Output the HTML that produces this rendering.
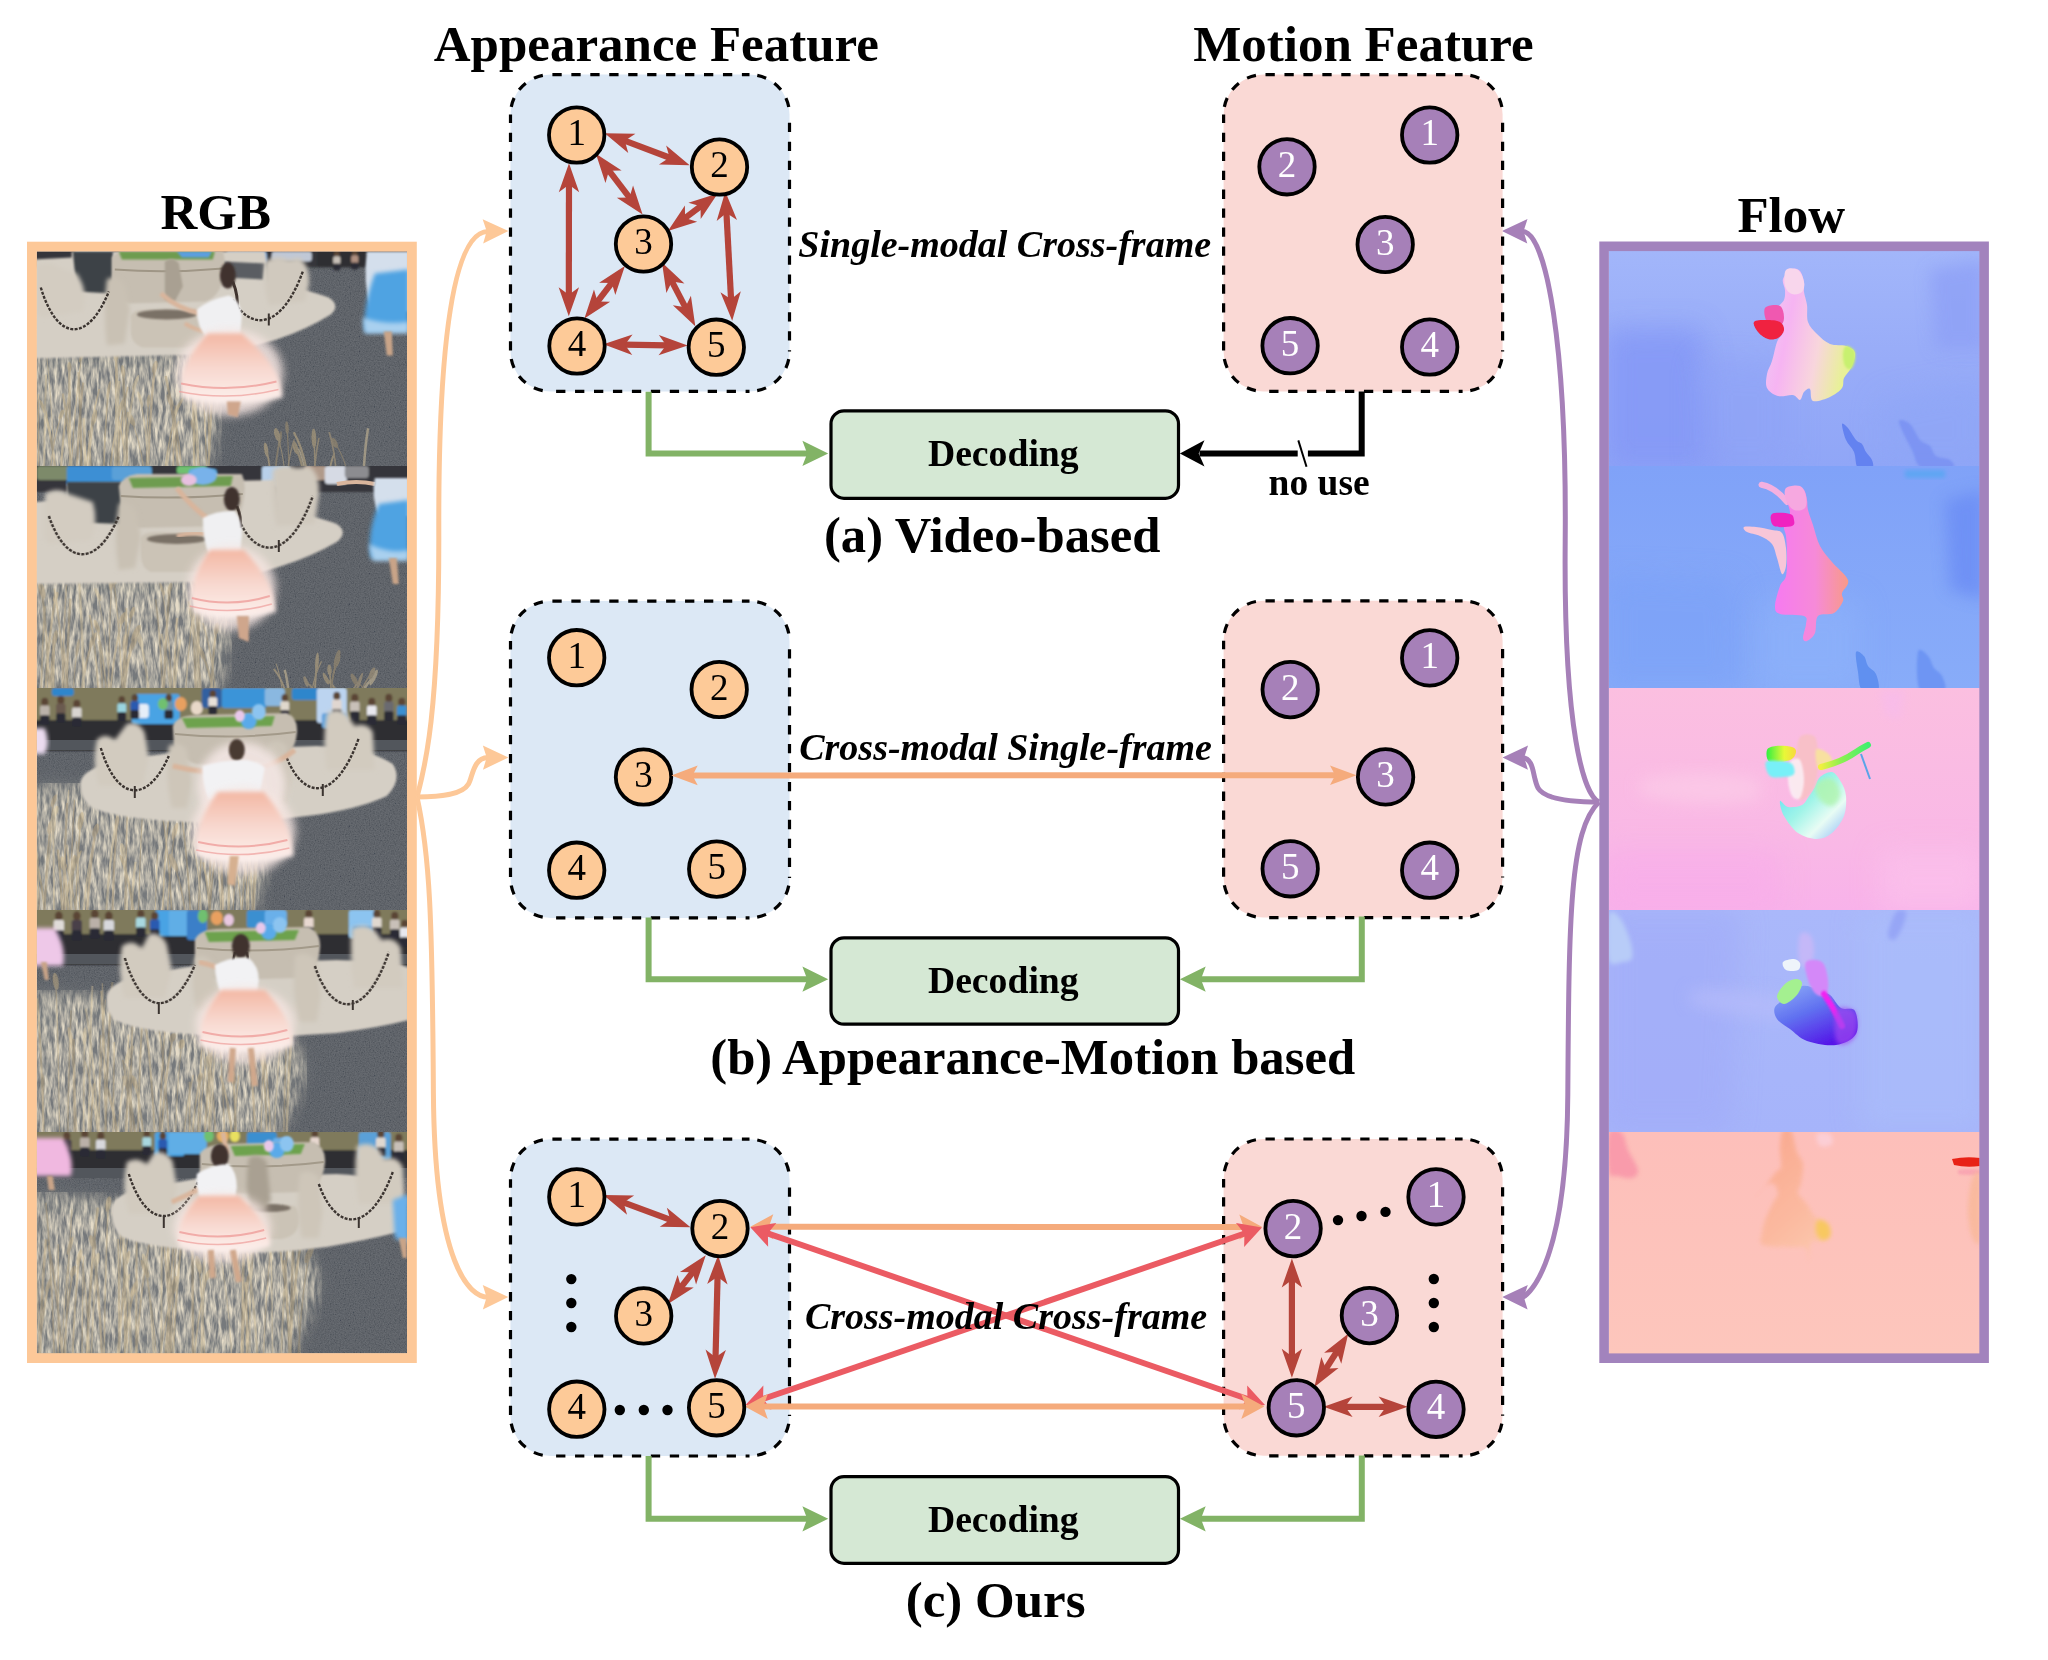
<!DOCTYPE html>
<html><head><meta charset="utf-8"><title>diagram</title>
<style>
html,body{margin:0;padding:0;background:#fff;}
svg{display:block;}
text{font-family:"Liberation Serif",serif;}
</style></head><body>
<svg xmlns="http://www.w3.org/2000/svg" width="2048" height="1660" viewBox="0 0 2048 1660">
<rect width="2048" height="1660" fill="#fff"/>
<g id="rgb">
<defs>
<filter id="b05" x="-20%" y="-20%" width="140%" height="140%"><feGaussianBlur stdDeviation="0.5"/></filter>
<filter id="b1" x="-20%" y="-20%" width="140%" height="140%"><feGaussianBlur stdDeviation="1"/></filter>
<filter id="b2" x="-20%" y="-20%" width="140%" height="140%"><feGaussianBlur stdDeviation="2"/></filter>
<filter id="b4" x="-30%" y="-30%" width="160%" height="160%"><feGaussianBlur stdDeviation="4"/></filter>
<filter id="b8" x="-40%" y="-40%" width="180%" height="180%"><feGaussianBlur stdDeviation="8"/></filter>
<filter id="b14" x="-50%" y="-50%" width="200%" height="200%"><feGaussianBlur stdDeviation="14"/></filter>
<filter id="grain" x="0" y="0" width="100%" height="100%"><feTurbulence type="fractalNoise" baseFrequency="0.8" numOctaves="2" seed="3" result="n"/><feColorMatrix in="n" type="matrix" values="1.0 0 0 0 -0.15  1.0 0 0 0 -0.13  1.0 0 0 0 -0.1  0 0 0 0 0.18"/></filter>
<filter id="grassTex" x="0" y="0" width="100%" height="100%"><feTurbulence type="fractalNoise" baseFrequency="0.28 0.06" numOctaves="3" seed="7" result="t"/><feColorMatrix in="t" type="matrix" values="0 0 0 0 0.78  0 0 0 0 0.71  0 0 0 0 0.57  2.0 0 0 0 -0.55" result="c"/><feComposite in="c" in2="SourceAlpha" operator="in"/></filter>
</defs>
<clipPath id="rc0"><rect x="0" y="0" width="370.2" height="214.5"/></clipPath>
<g transform="translate(36.8,251.5)" clip-path="url(#rc0)">
<rect x="-2" y="-2" width="374.2" height="218.5" fill="#52565c"/>
<rect x="0" y="0" width="370.2" height="214.5" filter="url(#grain)"/>
<g filter="url(#b1)">
<rect x="-5" y="-5" width="380.2" height="21.0" fill="#34363a"/>
<rect x="38.0" y="0.0" width="37.0" height="8.0" rx="3" fill="#3f8fd0"/>
<rect x="190.0" y="0.0" width="40.0" height="12.0" rx="3" fill="#8fb0d8"/>
<rect x="235.0" y="0.0" width="40.0" height="10.0" rx="3" fill="#c0c8d6"/>
<rect x="280.0" y="0.0" width="50.0" height="15.0" rx="3" fill="#2e2e32"/>
<ellipse cx="300.0" cy="2.0" rx="2.7" ry="3.2" fill="#5a4434" /><rect x="296.4" y="4.7" width="7.2" height="8.1" rx="2" fill="#c8c0b8"/><rect x="296.4" y="11.9" width="7.2" height="7.2" rx="2" fill="#2a2c34"/>
<ellipse cx="318.0" cy="1.0" rx="2.7" ry="3.2" fill="#5a4434" /><rect x="314.4" y="3.7" width="7.2" height="8.1" rx="2" fill="#b09080"/><rect x="314.4" y="10.9" width="7.2" height="7.2" rx="2" fill="#2a2c34"/>
</g>
<path d="M-5,98 L175,100 L185,150 L170,225 L-5,225 Z" fill="#76797c" opacity="1.00" filter="url(#b8)"/>
<g filter="url(#grassTex)"><path d="M-5,98 L175,100 L185,150 L170,225 L-5,225 Z" fill="#fff" filter="url(#b8)"/></g>
<g opacity="0.45" filter="url(#b05)">
<path d="M79.2,223.0 q3.6,-52.7 11.9,-87.8" stroke="#a8946f" stroke-width="1.7" fill="none"/>
<path d="M33.2,223.0 q-0.2,-64.4 -0.7,-107.3" stroke="#c4ad80" stroke-width="2.3" fill="none"/>
<ellipse cx="32.6" cy="115.7" rx="2.0" ry="5.5" fill="#c4ad80" transform="rotate(-1 32.6 115.7)"/>
<path d="M141.7,223.0 q-3.8,-59.1 -12.8,-98.5" stroke="#a8946f" stroke-width="2.5" fill="none"/>
<path d="M107.7,223.0 q-4.1,-33.4 -13.6,-55.6" stroke="#c4ad80" stroke-width="1.1" fill="none"/>
<ellipse cx="94.1" cy="167.4" rx="2.8" ry="8.0" fill="#c4ad80" transform="rotate(-27 94.1 167.4)"/>
<path d="M136.2,223.0 q0.8,-41.5 2.5,-69.1" stroke="#b9a37c" stroke-width="1.8" fill="none"/>
<path d="M87.5,223.0 q-0.4,-57.6 -1.2,-96.0" stroke="#dcc89e" stroke-width="1.7" fill="none"/>
<path d="M163.0,223.0 q-2.1,-29.8 -6.9,-49.7" stroke="#b9a37c" stroke-width="1.8" fill="none"/>
<ellipse cx="156.2" cy="173.3" rx="2.3" ry="5.5" fill="#b9a37c" transform="rotate(-14 156.2 173.3)"/>
<path d="M18.9,223.0 q-3.6,-39.8 -12.1,-66.3" stroke="#cdb587" stroke-width="2.4" fill="none"/>
<ellipse cx="6.7" cy="156.7" rx="1.8" ry="9.6" fill="#cdb587" transform="rotate(-24 6.7 156.7)"/>
<path d="M82.2,223.0 q-0.9,-72.9 -2.9,-121.4" stroke="#cdb587" stroke-width="1.9" fill="none"/>
<ellipse cx="79.4" cy="101.6" rx="2.5" ry="6.7" fill="#cdb587" transform="rotate(-6 79.4 101.6)"/>
<path d="M54.5,223.0 q-0.8,-26.6 -2.5,-44.3" stroke="#cdb587" stroke-width="1.2" fill="none"/>
<path d="M1.9,223.0 q-0.1,-48.1 -0.4,-80.2" stroke="#c4ad80" stroke-width="1.3" fill="none"/>
<path d="M172.4,223.0 q-0.7,-62.7 -2.3,-104.6" stroke="#a8946f" stroke-width="1.2" fill="none"/>
<ellipse cx="170.2" cy="118.4" rx="1.8" ry="6.3" fill="#a8946f" transform="rotate(-5 170.2 118.4)"/>
<path d="M169.9,223.0 q-1.6,-64.4 -5.5,-107.3" stroke="#cdb587" stroke-width="1.3" fill="none"/>
<ellipse cx="164.4" cy="115.7" rx="2.8" ry="8.2" fill="#cdb587" transform="rotate(-11 164.4 115.7)"/>
<path d="M17.6,223.0 q-2.4,-73.3 -8.0,-122.1" stroke="#dcc89e" stroke-width="1.0" fill="none"/>
<path d="M145.3,223.0 q-3.6,-44.4 -11.9,-73.9" stroke="#b9a37c" stroke-width="1.9" fill="none"/>
<ellipse cx="133.4" cy="149.1" rx="2.4" ry="6.9" fill="#b9a37c" transform="rotate(-24 133.4 149.1)"/>
<path d="M79.3,223.0 q-0.1,-71.8 -0.5,-119.7" stroke="#c4ad80" stroke-width="1.2" fill="none"/>
<ellipse cx="78.9" cy="103.3" rx="2.4" ry="6.6" fill="#c4ad80" transform="rotate(-1 78.9 103.3)"/>
<path d="M40.0,223.0 q1.9,-55.1 6.3,-91.9" stroke="#b9a37c" stroke-width="2.2" fill="none"/>
<path d="M34.4,223.0 q3.2,-71.4 10.7,-119.0" stroke="#c4ad80" stroke-width="1.1" fill="none"/>
<ellipse cx="45.1" cy="104.0" rx="1.7" ry="7.6" fill="#c4ad80" transform="rotate(21 45.1 104.0)"/>
<path d="M44.7,223.0 q-0.9,-61.3 -3.0,-102.2" stroke="#a8946f" stroke-width="2.3" fill="none"/>
<path d="M51.4,223.0 q1.9,-34.2 6.2,-57.1" stroke="#cdb587" stroke-width="1.2" fill="none"/>
<ellipse cx="57.5" cy="165.9" rx="2.5" ry="8.1" fill="#cdb587" transform="rotate(12 57.5 165.9)"/>
<path d="M13.0,223.0 q3.5,-36.0 11.6,-60.0" stroke="#cdb587" stroke-width="1.1" fill="none"/>
<ellipse cx="24.6" cy="163.0" rx="1.9" ry="5.2" fill="#cdb587" transform="rotate(23 24.6 163.0)"/>
<path d="M49.3,223.0 q4.0,-51.3 13.2,-85.5" stroke="#cdb587" stroke-width="1.6" fill="none"/>
<path d="M171.6,223.0 q1.6,-57.3 5.4,-95.6" stroke="#c4ad80" stroke-width="2.5" fill="none"/>
<path d="M161.6,223.0 q-1.2,-48.6 -4.0,-81.0" stroke="#dcc89e" stroke-width="2.5" fill="none"/>
<ellipse cx="157.6" cy="142.0" rx="2.5" ry="7.4" fill="#dcc89e" transform="rotate(-8 157.6 142.0)"/>
<path d="M127.8,223.0 q4.2,-41.1 14.0,-68.5" stroke="#cdb587" stroke-width="1.7" fill="none"/>
<ellipse cx="141.8" cy="154.5" rx="1.6" ry="9.7" fill="#cdb587" transform="rotate(28 141.8 154.5)"/>
<path d="M129.0,223.0 q3.9,-32.0 13.0,-53.4" stroke="#dcc89e" stroke-width="1.6" fill="none"/>
<path d="M157.6,223.0 q-0.7,-67.6 -2.3,-112.7" stroke="#cdb587" stroke-width="2.4" fill="none"/>
<path d="M109.4,223.0 q0.7,-44.2 2.3,-73.6" stroke="#c4ad80" stroke-width="1.1" fill="none"/>
<ellipse cx="111.7" cy="149.4" rx="1.7" ry="6.3" fill="#c4ad80" transform="rotate(5 111.7 149.4)"/>
<path d="M72.8,223.0 q3.6,-41.7 12.2,-69.4" stroke="#c4ad80" stroke-width="1.7" fill="none"/>
<ellipse cx="85.0" cy="153.6" rx="2.3" ry="7.6" fill="#c4ad80" transform="rotate(24 85.0 153.6)"/>
<path d="M90.0,223.0 q-3.5,-40.7 -11.5,-67.9" stroke="#cdb587" stroke-width="1.4" fill="none"/>
<path d="M87.0,223.0 q3.5,-55.3 11.8,-92.2" stroke="#dcc89e" stroke-width="2.4" fill="none"/>
<ellipse cx="98.8" cy="130.8" rx="1.7" ry="8.1" fill="#dcc89e" transform="rotate(24 98.8 130.8)"/>
<path d="M90.7,223.0 q-1.3,-62.0 -4.4,-103.3" stroke="#a8946f" stroke-width="1.8" fill="none"/>
<ellipse cx="86.3" cy="119.7" rx="2.1" ry="6.3" fill="#a8946f" transform="rotate(-9 86.3 119.7)"/>
<path d="M111.0,223.0 q2.1,-64.4 7.1,-107.3" stroke="#b9a37c" stroke-width="2.4" fill="none"/>
<ellipse cx="118.1" cy="115.7" rx="2.4" ry="6.6" fill="#b9a37c" transform="rotate(14 118.1 115.7)"/>
<path d="M23.8,223.0 q2.8,-49.6 9.4,-82.7" stroke="#cdb587" stroke-width="2.1" fill="none"/>
<path d="M48.4,223.0 q-0.4,-33.9 -1.4,-56.6" stroke="#dcc89e" stroke-width="2.5" fill="none"/>
<path d="M66.9,223.0 q1.4,-50.8 4.8,-84.6" stroke="#c4ad80" stroke-width="1.7" fill="none"/>
<ellipse cx="71.8" cy="138.4" rx="1.5" ry="9.4" fill="#c4ad80" transform="rotate(10 71.8 138.4)"/>
<path d="M7.3,223.0 q0.6,-59.8 2.0,-99.7" stroke="#dcc89e" stroke-width="2.0" fill="none"/>
<path d="M112.2,223.0 q-2.6,-45.3 -8.7,-75.4" stroke="#dcc89e" stroke-width="1.4" fill="none"/>
<ellipse cx="103.5" cy="147.6" rx="1.6" ry="8.1" fill="#dcc89e" transform="rotate(-17 103.5 147.6)"/>
<path d="M78.1,223.0 q1.3,-56.0 4.3,-93.4" stroke="#dcc89e" stroke-width="2.5" fill="none"/>
<path d="M34.9,223.0 q-2.7,-48.6 -9.0,-81.0" stroke="#cdb587" stroke-width="2.2" fill="none"/>
</g>
<g opacity="0.50" filter="url(#b05)">
<path d="M277.5,223.0 q1.4,-21.9 4.7,-36.5" stroke="#b9a37c" stroke-width="1.6" fill="none"/>
<path d="M278.3,223.0 q-0.3,-21.7 -1.1,-36.1" stroke="#c4ad80" stroke-width="1.4" fill="none"/>
<ellipse cx="277.1" cy="186.9" rx="2.4" ry="9.9" fill="#c4ad80" transform="rotate(-2 277.1 186.9)"/>
<path d="M266.8,223.0 q-2.4,-16.1 -8.1,-26.8" stroke="#c4ad80" stroke-width="2.3" fill="none"/>
<ellipse cx="258.7" cy="196.2" rx="2.5" ry="6.7" fill="#c4ad80" transform="rotate(-16 258.7 196.2)"/>
<path d="M270.5,223.0 q-4.0,-25.3 -13.5,-42.2" stroke="#cdb587" stroke-width="2.3" fill="none"/>
<path d="M252.3,223.0 q-0.6,-28.0 -2.1,-46.7" stroke="#a8946f" stroke-width="1.2" fill="none"/>
<ellipse cx="250.2" cy="176.3" rx="1.7" ry="6.6" fill="#a8946f" transform="rotate(-4 250.2 176.3)"/>
<path d="M292.1,223.0 q1.7,-12.9 5.5,-21.4" stroke="#cdb587" stroke-width="1.9" fill="none"/>
<path d="M238.4,223.0 q1.4,-21.0 4.7,-35.0" stroke="#a8946f" stroke-width="1.8" fill="none"/>
<ellipse cx="243.1" cy="188.0" rx="1.5" ry="8.6" fill="#a8946f" transform="rotate(9 243.1 188.0)"/>
<path d="M326.7,223.0 q1.4,-27.8 4.6,-46.3" stroke="#dcc89e" stroke-width="2.5" fill="none"/>
<path d="M268.6,223.0 q-2.1,-15.6 -6.9,-25.9" stroke="#dcc89e" stroke-width="1.6" fill="none"/>
<path d="M311.0,223.0 q-4.0,-19.0 -13.2,-31.7" stroke="#a8946f" stroke-width="1.1" fill="none"/>
<ellipse cx="297.8" cy="191.3" rx="2.5" ry="5.2" fill="#a8946f" transform="rotate(-26 297.8 191.3)"/>
<path d="M250.4,223.0 q2.1,-21.0 7.1,-35.0" stroke="#b9a37c" stroke-width="1.3" fill="none"/>
<path d="M233.7,223.0 q-1.3,-14.9 -4.4,-24.9" stroke="#cdb587" stroke-width="1.8" fill="none"/>
<ellipse cx="229.3" cy="198.1" rx="2.0" ry="7.3" fill="#cdb587" transform="rotate(-9 229.3 198.1)"/>
<path d="M299.7,223.0 q-2.2,-25.6 -7.3,-42.6" stroke="#b9a37c" stroke-width="1.7" fill="none"/>
<path d="M248.2,223.0 q-2.4,-23.9 -7.8,-39.9" stroke="#c4ad80" stroke-width="1.0" fill="none"/>
<ellipse cx="240.3" cy="183.1" rx="2.7" ry="6.7" fill="#c4ad80" transform="rotate(-16 240.3 183.1)"/>
</g>
<path d="M-5,8 L35,6 L35,0 L228,0 L232,30 Q270,38 292,46 Q304,54 294,63 Q270,78 240,88 Q205,99 170,103 L-5,107 Z" fill="#d5cfc5" opacity="1.00" filter="url(#b1)"/>
<path d="M36,0 L76,0 L76,42 L40,40 Z" fill="#3e4247" opacity="1.00" filter="url(#b1)"/>
<path d="M186,10 L228,12 L226,28 L190,26 Z" fill="#5a5d62" opacity="1.00" filter="url(#b1)"/>
<path d="M75,6 Q78,0 90,0 L186,0 Q190,10 186,28 Q182,46 168,50 L92,52 Q76,48 75,30 Z" fill="#c6beb1" opacity="1.00" filter="url(#b1)"/>
<path d="M80,15 L185,16" fill="#000" opacity="1.00" filter="url(#b1)"/>
<path d="M78,18 Q130,22 186,17" stroke="#9f9686" stroke-width="2" fill="none"/>
<path d="M82,0 L178,0 L176,8 L85,8 Z" fill="#6e9c50" opacity="1.00" filter="url(#b1)"/>
<path d="M140,0 L175,0 L172,6 L145,6 Z" fill="#5c9fdf" opacity="1.00" filter="url(#b1)"/>
<path d="M94,64 Q96,58 110,58 L162,58 Q170,64 168,80 Q166,94 150,96 L106,96 Q94,92 94,80 Z" fill="#cbc3b6" opacity="1.00" filter="url(#b1)"/>
<ellipse cx="130.0" cy="63.0" rx="30.0" ry="5.0" fill="#7a7166" filter="url(#b1)"/>
<path d="M0,15 Q12,8 22,16 L40,22 Q52,40 46,60 L6,66 L0,62 Z" fill="#d3ccc1" opacity="1.00" filter="url(#b2)"/>
<path d="M70,28 Q80,22 88,34 L93,58 L88,92 L70,94 Q66,60 70,28 Z" fill="#c9c1b4" opacity="1.00" filter="url(#b2)"/>
<path d="M128,10 Q136,4 142,12 L146,35 L138,50 L128,48 Z" fill="#a9a092" opacity="1.00" filter="url(#b1)"/>
<path d="M228,10 Q240,2 252,8 L262,6 Q274,14 272,34 L268,50 L232,54 Q226,34 228,10 Z" fill="#d0c9be" opacity="1.00" filter="url(#b2)"/>
<path d="M4,36 C21,92 52,90 72,40" stroke="#3b3430" stroke-width="2.4" fill="none" stroke-dasharray="3 1.4"/>
<path d="M196,48 C214,80 245,78 266,20" stroke="#3b3430" stroke-width="2.4" fill="none" stroke-dasharray="3 1.4"/>
<path d="M232,62 L232,74" stroke="#3b3430" stroke-width="2"/>
<path d="M124,42 Q142,58 164,62" stroke="#d9b59c" stroke-width="5" fill="none" filter="url(#b1)"/>
<path d="M148,72 Q158,78 168,80" stroke="#d9b59c" stroke-width="4" fill="none" filter="url(#b1)"/>
<ellipse cx="191.0" cy="24.0" rx="8.0" ry="13.0" fill="#3f332e" filter="url(#b1)"/>
<path d="M196,30 Q202,45 200,58" stroke="#3f332e" stroke-width="3" fill="none"/>
<path d="M160,58 Q172,48 192,44 Q204,48 205,66 L203,86 L170,86 Q160,76 160,58 Z" fill="#f0f0f2" opacity="1.00" filter="url(#b1)"/>
<linearGradient id="sk1" x1="0" y1="0" x2="0" y2="1"><stop offset="0" stop-color="#f3b8a4"/><stop offset="0.5" stop-color="#f8d8cf"/><stop offset="1" stop-color="#fcf1ee"/></linearGradient><ellipse cx="192.8" cy="121.0" rx="53.4" ry="43.4" fill="#f6e6e2" opacity="0.85" filter="url(#b4)"/><path d="M171.0,82.0 L205.0,82.0 Q245.7,117.0 245.7,146.0 Q192.0,158.0 146.3,146.0 Q138.3,117.0 171.0,82.0 Z" fill="url(#sk1)" opacity="1.00" filter="url(#b2)"/><path d="M144.3,132.0 Q192.0,142.0 239.7,130.0" stroke="#ef9f9c" stroke-width="2" fill="none" opacity="0.8" filter="url(#b05)"/><path d="M142.3,140.0 Q192.0,150.0 241.7,138.0" stroke="#ef9f9c" stroke-width="1.6" fill="none" opacity="0.7" filter="url(#b05)"/>
<path d="M190,150 L191,163 L201,166 L204,150 Z" fill="#cfa68c" opacity="1.00" filter="url(#b1)"/>
<path d="M330,0 L372,0 L372,60 L334,60 Q326,30 330,0 Z" fill="#d4dfec" opacity="1.00" filter="url(#b1)"/>
<path d="M338,22 L372,18 L372,78 L328,80 Q326,55 338,22 Z" fill="#4fa3e2" opacity="1.00" filter="url(#b2)"/>
<path d="M326,66 Q350,74 372,70 L372,82 L328,82 Z" fill="#a9d0ef" opacity="1.00" filter="url(#b2)"/>
<path d="M347,80 L350,104 L356,104 L355,80 Z" fill="#c9a488" opacity="1.00" filter="url(#b1)"/>
</g>
<clipPath id="rc1"><rect x="0" y="0" width="370.2" height="222.0"/></clipPath>
<g transform="translate(36.8,466.0)" clip-path="url(#rc1)">
<rect x="-2" y="-2" width="374.2" height="226.0" fill="#52565c"/>
<rect x="0" y="0" width="370.2" height="222.0" filter="url(#grain)"/>
<g filter="url(#b1)">
<rect x="-5" y="-5" width="380.2" height="31.0" fill="#34363a"/>
<rect x="0.0" y="0.0" width="35.0" height="14.0" rx="3" fill="#7d8a6a"/>
<rect x="30.0" y="0.0" width="60.0" height="20.0" rx="3" fill="#3e8fd4"/>
<rect x="75.0" y="0.0" width="40.0" height="14.0" rx="3" fill="#5aa0d8"/>
<rect x="140.0" y="0.0" width="30.0" height="8.0" rx="3" fill="#70c070"/>
<rect x="152.0" y="3.0" width="28.0" height="16.0" rx="3" fill="#5faade"/>
<rect x="225.0" y="0.0" width="28.0" height="20.0" rx="3" fill="#b8d0ea"/>
<rect x="268.0" y="0.0" width="22.0" height="14.0" rx="3" fill="#b09a8a"/>
<rect x="288.0" y="0.0" width="22.0" height="18.0" rx="3" fill="#d6dae4"/>
<rect x="308.0" y="0.0" width="24.0" height="12.0" rx="3" fill="#8c8c90"/>
</g>
<path d="M-5,108 L185,110 L195,160 L180,228 L-5,228 Z" fill="#76797c" opacity="1.00" filter="url(#b8)"/>
<g filter="url(#grassTex)"><path d="M-5,108 L185,110 L195,160 L180,228 L-5,228 Z" fill="#fff" filter="url(#b8)"/></g>
<g opacity="0.45" filter="url(#b05)">
<path d="M29.7,230.0 q1.1,-58.4 3.8,-97.4" stroke="#a8946f" stroke-width="2.3" fill="none"/>
<path d="M85.4,230.0 q-2.7,-71.4 -8.9,-119.1" stroke="#c4ad80" stroke-width="1.4" fill="none"/>
<ellipse cx="76.6" cy="110.9" rx="2.1" ry="7.9" fill="#c4ad80" transform="rotate(-18 76.6 110.9)"/>
<path d="M12.5,230.0 q-2.2,-63.4 -7.5,-105.6" stroke="#b9a37c" stroke-width="2.1" fill="none"/>
<ellipse cx="5.0" cy="124.4" rx="3.0" ry="8.9" fill="#b9a37c" transform="rotate(-15 5.0 124.4)"/>
<path d="M73.2,230.0 q3.8,-46.6 12.8,-77.7" stroke="#c4ad80" stroke-width="1.8" fill="none"/>
<ellipse cx="86.0" cy="152.3" rx="2.9" ry="6.8" fill="#c4ad80" transform="rotate(26 86.0 152.3)"/>
<path d="M27.9,230.0 q-3.2,-64.5 -10.5,-107.5" stroke="#cdb587" stroke-width="1.7" fill="none"/>
<path d="M61.7,230.0 q-2.6,-48.7 -8.8,-81.1" stroke="#cdb587" stroke-width="1.8" fill="none"/>
<path d="M13.4,230.0 q1.5,-35.0 4.9,-58.4" stroke="#c4ad80" stroke-width="2.6" fill="none"/>
<ellipse cx="18.3" cy="171.6" rx="2.3" ry="7.8" fill="#c4ad80" transform="rotate(10 18.3 171.6)"/>
<path d="M69.8,230.0 q-3.0,-41.9 -9.9,-69.8" stroke="#c4ad80" stroke-width="1.7" fill="none"/>
<ellipse cx="59.9" cy="160.2" rx="2.2" ry="6.9" fill="#c4ad80" transform="rotate(-20 59.9 160.2)"/>
<path d="M179.1,230.0 q-4.0,-44.0 -13.2,-73.4" stroke="#cdb587" stroke-width="1.3" fill="none"/>
<path d="M176.8,230.0 q-3.6,-25.8 -12.0,-42.9" stroke="#c4ad80" stroke-width="2.2" fill="none"/>
<ellipse cx="164.8" cy="187.1" rx="2.4" ry="7.8" fill="#c4ad80" transform="rotate(-24 164.8 187.1)"/>
<path d="M112.1,230.0 q-2.8,-34.2 -9.2,-57.0" stroke="#dcc89e" stroke-width="2.3" fill="none"/>
<ellipse cx="102.8" cy="173.0" rx="2.6" ry="9.6" fill="#dcc89e" transform="rotate(-18 102.8 173.0)"/>
<path d="M44.2,230.0 q3.6,-33.6 11.8,-56.1" stroke="#b9a37c" stroke-width="2.2" fill="none"/>
<ellipse cx="56.1" cy="173.9" rx="2.5" ry="8.4" fill="#b9a37c" transform="rotate(24 56.1 173.9)"/>
<path d="M161.8,230.0 q-0.8,-71.2 -2.6,-118.7" stroke="#b9a37c" stroke-width="2.5" fill="none"/>
<path d="M159.0,230.0 q-1.0,-49.0 -3.5,-81.6" stroke="#b9a37c" stroke-width="2.5" fill="none"/>
<ellipse cx="155.5" cy="148.4" rx="2.3" ry="7.2" fill="#b9a37c" transform="rotate(-7 155.5 148.4)"/>
<path d="M73.3,230.0 q-3.7,-60.9 -12.4,-101.5" stroke="#dcc89e" stroke-width="1.1" fill="none"/>
<ellipse cx="61.0" cy="128.5" rx="1.9" ry="7.1" fill="#dcc89e" transform="rotate(-25 61.0 128.5)"/>
<path d="M30.7,230.0 q-1.4,-28.9 -4.5,-48.2" stroke="#b9a37c" stroke-width="2.6" fill="none"/>
<path d="M86.2,230.0 q3.9,-37.6 12.8,-62.7" stroke="#c4ad80" stroke-width="2.5" fill="none"/>
<ellipse cx="99.1" cy="167.3" rx="2.9" ry="9.5" fill="#c4ad80" transform="rotate(26 99.1 167.3)"/>
<path d="M65.8,230.0 q-1.1,-32.9 -3.7,-54.9" stroke="#a8946f" stroke-width="1.8" fill="none"/>
<path d="M85.8,230.0 q0.7,-32.2 2.5,-53.7" stroke="#b9a37c" stroke-width="2.2" fill="none"/>
<ellipse cx="88.3" cy="176.3" rx="2.5" ry="9.8" fill="#b9a37c" transform="rotate(5 88.3 176.3)"/>
<path d="M4.2,230.0 q1.2,-53.9 4.0,-89.8" stroke="#c4ad80" stroke-width="1.7" fill="none"/>
<path d="M135.3,230.0 q-3.0,-64.3 -10.1,-107.1" stroke="#b9a37c" stroke-width="1.2" fill="none"/>
<ellipse cx="125.2" cy="122.9" rx="1.5" ry="7.2" fill="#b9a37c" transform="rotate(-20 125.2 122.9)"/>
<path d="M25.3,230.0 q1.3,-66.9 4.3,-111.5" stroke="#b9a37c" stroke-width="1.5" fill="none"/>
<path d="M71.3,230.0 q1.0,-67.9 3.4,-113.1" stroke="#b9a37c" stroke-width="1.3" fill="none"/>
<ellipse cx="74.7" cy="116.9" rx="2.6" ry="7.8" fill="#b9a37c" transform="rotate(7 74.7 116.9)"/>
<path d="M8.3,230.0 q3.1,-59.4 10.5,-99.1" stroke="#cdb587" stroke-width="2.3" fill="none"/>
<ellipse cx="18.8" cy="130.9" rx="2.2" ry="5.3" fill="#cdb587" transform="rotate(21 18.8 130.9)"/>
<path d="M137.5,230.0 q1.8,-34.0 5.9,-56.6" stroke="#dcc89e" stroke-width="2.5" fill="none"/>
<path d="M134.2,230.0 q-2.9,-37.3 -9.6,-62.1" stroke="#dcc89e" stroke-width="2.3" fill="none"/>
<path d="M88.2,230.0 q0.4,-52.9 1.3,-88.1" stroke="#cdb587" stroke-width="1.8" fill="none"/>
<path d="M174.1,230.0 q1.7,-40.4 5.6,-67.3" stroke="#c4ad80" stroke-width="2.2" fill="none"/>
<ellipse cx="179.7" cy="162.7" rx="2.4" ry="6.6" fill="#c4ad80" transform="rotate(11 179.7 162.7)"/>
<path d="M36.2,230.0 q1.3,-28.7 4.4,-47.9" stroke="#a8946f" stroke-width="1.2" fill="none"/>
<ellipse cx="40.7" cy="182.1" rx="1.6" ry="9.1" fill="#a8946f" transform="rotate(9 40.7 182.1)"/>
<path d="M136.8,230.0 q1.0,-46.9 3.4,-78.2" stroke="#cdb587" stroke-width="2.1" fill="none"/>
<path d="M84.8,230.0 q3.2,-50.0 10.5,-83.4" stroke="#cdb587" stroke-width="1.4" fill="none"/>
<ellipse cx="95.3" cy="146.6" rx="2.2" ry="6.2" fill="#cdb587" transform="rotate(21 95.3 146.6)"/>
<path d="M126.8,230.0 q1.9,-64.5 6.3,-107.5" stroke="#a8946f" stroke-width="2.3" fill="none"/>
<ellipse cx="133.0" cy="122.5" rx="2.0" ry="6.1" fill="#a8946f" transform="rotate(13 133.0 122.5)"/>
<path d="M164.6,230.0 q-3.9,-56.8 -13.0,-94.6" stroke="#b9a37c" stroke-width="1.8" fill="none"/>
<path d="M160.3,230.0 q1.1,-62.7 3.6,-104.5" stroke="#c4ad80" stroke-width="2.1" fill="none"/>
<path d="M125.8,230.0 q-2.1,-58.1 -7.1,-96.9" stroke="#a8946f" stroke-width="1.6" fill="none"/>
<path d="M148.5,230.0 q4.1,-71.5 13.7,-119.1" stroke="#cdb587" stroke-width="1.3" fill="none"/>
<ellipse cx="162.2" cy="110.9" rx="2.8" ry="8.6" fill="#cdb587" transform="rotate(27 162.2 110.9)"/>
<path d="M16.3,230.0 q0.2,-34.0 0.6,-56.6" stroke="#c4ad80" stroke-width="2.5" fill="none"/>
<path d="M83.2,230.0 q3.8,-30.8 12.8,-51.3" stroke="#a8946f" stroke-width="1.3" fill="none"/>
<ellipse cx="96.0" cy="178.7" rx="2.5" ry="8.4" fill="#a8946f" transform="rotate(26 96.0 178.7)"/>
<path d="M47.0,230.0 q-1.5,-70.9 -5.0,-118.1" stroke="#dcc89e" stroke-width="2.5" fill="none"/>
<path d="M161.9,230.0 q-2.2,-49.7 -7.3,-82.9" stroke="#dcc89e" stroke-width="2.1" fill="none"/>
<ellipse cx="154.6" cy="147.1" rx="2.1" ry="7.0" fill="#dcc89e" transform="rotate(-15 154.6 147.1)"/>
</g>
<g opacity="0.50" filter="url(#b05)">
<path d="M330.8,230.0 q-4.0,-9.8 -13.3,-16.3" stroke="#a8946f" stroke-width="1.3" fill="none"/>
<ellipse cx="317.5" cy="213.7" rx="2.5" ry="6.7" fill="#a8946f" transform="rotate(-27 317.5 213.7)"/>
<path d="M324.0,230.0 q3.9,-11.1 12.9,-18.5" stroke="#dcc89e" stroke-width="2.6" fill="none"/>
<ellipse cx="336.8" cy="211.5" rx="2.3" ry="8.7" fill="#dcc89e" transform="rotate(26 336.8 211.5)"/>
<path d="M278.0,230.0 q0.6,-20.5 2.2,-34.2" stroke="#cdb587" stroke-width="1.9" fill="none"/>
<ellipse cx="280.2" cy="195.8" rx="1.8" ry="9.2" fill="#cdb587" transform="rotate(4 280.2 195.8)"/>
<path d="M293.3,230.0 q2.3,-21.3 7.7,-35.5" stroke="#c4ad80" stroke-width="1.1" fill="none"/>
<ellipse cx="301.0" cy="194.5" rx="2.0" ry="5.9" fill="#c4ad80" transform="rotate(15 301.0 194.5)"/>
<path d="M274.3,230.0 q3.1,-20.8 10.4,-34.6" stroke="#c4ad80" stroke-width="1.2" fill="none"/>
<path d="M301.8,230.0 q-3.8,-10.4 -12.6,-17.4" stroke="#c4ad80" stroke-width="2.4" fill="none"/>
<ellipse cx="289.1" cy="212.6" rx="1.9" ry="6.4" fill="#c4ad80" transform="rotate(-25 289.1 212.6)"/>
<path d="M323.2,230.0 q3.6,-13.5 11.9,-22.5" stroke="#b9a37c" stroke-width="1.5" fill="none"/>
<ellipse cx="335.1" cy="207.5" rx="2.4" ry="6.5" fill="#b9a37c" transform="rotate(24 335.1 207.5)"/>
<path d="M294.6,230.0 q-0.6,-15.6 -1.9,-26.0" stroke="#c4ad80" stroke-width="1.7" fill="none"/>
<ellipse cx="292.7" cy="204.0" rx="2.2" ry="5.5" fill="#c4ad80" transform="rotate(-4 292.7 204.0)"/>
<path d="M313.1,230.0 q2.9,-8.6 9.6,-14.3" stroke="#b9a37c" stroke-width="1.8" fill="none"/>
<ellipse cx="322.7" cy="215.7" rx="1.6" ry="9.5" fill="#b9a37c" transform="rotate(19 322.7 215.7)"/>
<path d="M252.1,230.0 q-1.3,-15.7 -4.2,-26.1" stroke="#dcc89e" stroke-width="2.5" fill="none"/>
<path d="M279.4,230.0 q-3.1,-8.7 -10.2,-14.5" stroke="#b9a37c" stroke-width="2.0" fill="none"/>
<ellipse cx="269.1" cy="215.5" rx="1.8" ry="5.6" fill="#b9a37c" transform="rotate(-20 269.1 215.5)"/>
<path d="M249.8,230.0 q-3.8,-16.2 -12.8,-27.1" stroke="#cdb587" stroke-width="1.8" fill="none"/>
<path d="M293.5,230.0 q2.0,-22.1 6.8,-36.8" stroke="#a8946f" stroke-width="1.8" fill="none"/>
<ellipse cx="300.3" cy="193.2" rx="2.6" ry="9.8" fill="#a8946f" transform="rotate(14 300.3 193.2)"/>
<path d="M246.1,230.0 q-2.0,-19.4 -6.8,-32.4" stroke="#cdb587" stroke-width="1.0" fill="none"/>
</g>
<path d="M-5,36 L30,34 L30,18 L238,14 L242,44 Q280,50 300,58 Q312,66 300,76 Q276,90 245,100 Q210,112 175,116 L-5,118 Z" fill="#d5cfc5" opacity="1.00" filter="url(#b1)"/>
<path d="M30,16 L85,16 L85,58 L32,56 Z" fill="#3e4247" opacity="1.00" filter="url(#b1)"/>
<path d="M82,20 Q86,10 100,8 L205,8 Q210,18 206,38 Q202,56 188,60 L102,62 Q86,58 84,40 Z" fill="#c6beb1" opacity="1.00" filter="url(#b1)"/>
<path d="M84,30 Q140,34 206,28" stroke="#9f9686" stroke-width="2" fill="none"/>
<path d="M92,12 L196,10 L194,20 L96,22 Z" fill="#6e9c50" opacity="1.00" filter="url(#b1)"/>
<ellipse cx="166.0" cy="10.0" rx="14.0" ry="9.0" fill="#78b2ea" filter="url(#b1)"/>
<ellipse cx="152.0" cy="14.0" rx="8.0" ry="6.0" fill="#e8c0e0" filter="url(#b1)"/>
<path d="M104,72 Q106,66 120,66 L172,68 Q178,74 176,90 Q174,104 158,106 L114,106 Q104,102 104,88 Z" fill="#cbc3b6" opacity="1.00" filter="url(#b1)"/>
<ellipse cx="140.0" cy="73.0" rx="30.0" ry="5.0" fill="#7a7166" filter="url(#b1)"/>
<path d="M8,28 Q20,20 32,28 L56,36 Q62,56 54,74 L12,78 L8,72 Z" fill="#d3ccc1" opacity="1.00" filter="url(#b2)"/>
<path d="M82,38 Q92,32 100,46 L104,72 L98,102 L82,104 Q76,70 82,38 Z" fill="#c9c1b4" opacity="1.00" filter="url(#b2)"/>
<path d="M236,4 Q248,-4 260,2 L272,0 Q284,8 282,30 L278,58 L240,60 Q234,34 236,4 Z" fill="#d0c9be" opacity="1.00" filter="url(#b2)"/>
<path d="M12,50 C30,102 61,100 82,50" stroke="#3b3430" stroke-width="2.4" fill="none" stroke-dasharray="3 1.4"/>
<path d="M204,58 C222,94 254,92 276,30" stroke="#3b3430" stroke-width="2.4" fill="none" stroke-dasharray="3 1.4"/>
<path d="M242,74 L242,86" stroke="#3b3430" stroke-width="2"/>
<path d="M140,22 Q152,38 170,52" stroke="#d9b59c" stroke-width="5" fill="none" filter="url(#b1)"/>
<path d="M140,70 Q155,66 168,68" stroke="#d9b59c" stroke-width="4" fill="none" filter="url(#b1)"/>
<ellipse cx="195.0" cy="33.0" rx="8.0" ry="12.0" fill="#3f332e" filter="url(#b1)"/>
<path d="M200,40 Q205,52 203,62" stroke="#3f332e" stroke-width="3" fill="none"/>
<path d="M166,52 Q180,44 198,45 Q206,55 205,70 L203,88 L172,88 Q166,75 166,52 Z" fill="#f0f0f2" opacity="1.00" filter="url(#b1)"/>
<linearGradient id="sk2" x1="0" y1="0" x2="0" y2="1"><stop offset="0" stop-color="#f3b8a4"/><stop offset="0.5" stop-color="#f8d8cf"/><stop offset="1" stop-color="#fcf1ee"/></linearGradient><ellipse cx="194.8" cy="122.0" rx="44.1" ry="42.2" fill="#f6e6e2" opacity="0.85" filter="url(#b4)"/><path d="M173.0,84.0 L207.0,84.0 Q239.0,118.0 239.0,146.0 Q194.0,158.0 157.0,146.0 Q149.0,118.0 173.0,84.0 Z" fill="url(#sk2)" opacity="1.00" filter="url(#b2)"/><path d="M155.0,132.0 Q194.0,142.0 233.0,130.0" stroke="#ef9f9c" stroke-width="2" fill="none" opacity="0.8" filter="url(#b05)"/><path d="M153.0,140.0 Q194.0,150.0 235.0,138.0" stroke="#ef9f9c" stroke-width="1.6" fill="none" opacity="0.7" filter="url(#b05)"/>
<path d="M200,150 L202,172 L212,176 L212,150 Z" fill="#cfa68c" opacity="1.00" filter="url(#b1)"/>
<path d="M300,18 Q320,14 338,18" stroke="#d9b59c" stroke-width="4" fill="none"/>
<path d="M338,12 L372,12 L372,50 L342,50 Q334,30 338,12 Z" fill="#d4dfec" opacity="1.00" filter="url(#b1)"/>
<path d="M342,38 L372,34 L372,90 L334,92 Q330,66 342,38 Z" fill="#4fa3e2" opacity="1.00" filter="url(#b2)"/>
<path d="M332,78 Q352,88 372,84 L372,95 L336,95 Z" fill="#a9d0ef" opacity="1.00" filter="url(#b2)"/>
<path d="M352,92 L356,118 L362,118 L360,92 Z" fill="#c9a488" opacity="1.00" filter="url(#b1)"/>
</g>
<clipPath id="rc2"><rect x="0" y="0" width="370.2" height="222.0"/></clipPath>
<g transform="translate(36.8,688.0)" clip-path="url(#rc2)">
<rect x="-2" y="-2" width="374.2" height="226.0" fill="#52565c"/>
<rect x="0" y="0" width="370.2" height="222.0" filter="url(#grain)"/>
<g filter="url(#b1)">
<rect x="-5" y="-5" width="380.2" height="63.0" fill="#7f7a5c"/>
<rect x="-5.0" y="32.0" width="380.2" height="31.0" rx="0" fill="#2d2f33"/>
<rect x="15.0" y="0.0" width="22.0" height="8.0" rx="3" fill="#2f86cc"/>
<rect x="255.0" y="0.0" width="30.0" height="12.0" rx="3" fill="#2f86cc"/>
<ellipse cx="8.0" cy="14.0" rx="3.6" ry="4.3" fill="#5a4434" /><rect x="3.2" y="17.6" width="9.6" height="10.8" rx="2" fill="#bbb2aa"/><rect x="3.2" y="27.2" width="9.6" height="9.6" rx="2" fill="#2a2c34"/>
<ellipse cx="24.0" cy="12.0" rx="3.6" ry="4.3" fill="#5a4434" /><rect x="19.2" y="15.6" width="9.6" height="10.8" rx="2" fill="#6a5a50"/><rect x="19.2" y="25.2" width="9.6" height="9.6" rx="2" fill="#2a2c34"/>
<ellipse cx="40.0" cy="16.0" rx="3.6" ry="4.3" fill="#5a4434" /><rect x="35.2" y="19.6" width="9.6" height="10.8" rx="2" fill="#d8d4d0"/><rect x="35.2" y="29.2" width="9.6" height="9.6" rx="2" fill="#2a2c34"/>
<rect x="95.0" y="6.0" width="48.0" height="30.0" rx="3" fill="#4aa3e4"/>
<rect x="100.0" y="16.0" width="12.0" height="14.0" rx="3" fill="#e6eef8"/>
<ellipse cx="85.0" cy="12.0" rx="3.3" ry="4.0" fill="#5a4434" /><rect x="80.6" y="15.3" width="8.8" height="9.9" rx="2" fill="#9ad4e0"/><rect x="80.6" y="24.1" width="8.8" height="8.8" rx="2" fill="#2a2c34"/>
<ellipse cx="98.0" cy="10.0" rx="3.3" ry="4.0" fill="#5a4434" /><rect x="93.6" y="13.3" width="8.8" height="9.9" rx="2" fill="#2a5ab0"/><rect x="93.6" y="22.1" width="8.8" height="8.8" rx="2" fill="#2a2c34"/>
<ellipse cx="132.0" cy="10.0" rx="3.3" ry="4.0" fill="#5a4434" /><rect x="127.6" y="13.3" width="8.8" height="9.9" rx="2" fill="#6d8fa8"/><rect x="127.6" y="22.1" width="8.8" height="8.8" rx="2" fill="#2a2c34"/>
<ellipse cx="126.0" cy="16.0" rx="5.0" ry="6.0" fill="#70c070" />
<ellipse cx="144.0" cy="16.0" rx="6.0" ry="7.0" fill="#e8a060" />
<ellipse cx="160.0" cy="20.0" rx="6.0" ry="7.0" fill="#e8d8c8" />
<rect x="165.0" y="0.0" width="20.0" height="20.0" rx="3" fill="#3060a0"/>
<rect x="185.0" y="0.0" width="45.0" height="20.0" rx="3" fill="#3b94d8"/>
<rect x="228.0" y="0.0" width="20.0" height="18.0" rx="3" fill="#8ab8e0"/>
<ellipse cx="176.0" cy="6.0" rx="3.3" ry="4.0" fill="#5a4434" /><rect x="171.6" y="9.3" width="8.8" height="9.9" rx="2" fill="#e8e0d8"/><rect x="171.6" y="18.1" width="8.8" height="8.8" rx="2" fill="#2a2c34"/>
<ellipse cx="248.0" cy="10.0" rx="3.3" ry="4.0" fill="#5a4434" /><rect x="243.6" y="13.3" width="8.8" height="9.9" rx="2" fill="#e0d8cc"/><rect x="243.6" y="22.1" width="8.8" height="8.8" rx="2" fill="#2a2c34"/>
<rect x="280.0" y="0.0" width="30.0" height="35.0" rx="3" fill="#bcd4f0"/>
<rect x="285.0" y="25.0" width="25.0" height="15.0" rx="3" fill="#5aa0e0"/>
<ellipse cx="300.0" cy="8.0" rx="3.6" ry="4.3" fill="#5a4434" /><rect x="295.2" y="11.6" width="9.6" height="10.8" rx="2" fill="#e0d6d0"/><rect x="295.2" y="21.2" width="9.6" height="9.6" rx="2" fill="#2a2c34"/>
<ellipse cx="318.0" cy="10.0" rx="3.6" ry="4.3" fill="#5a4434" /><rect x="313.2" y="13.6" width="9.6" height="10.8" rx="2" fill="#c8c0b8"/><rect x="313.2" y="23.2" width="9.6" height="9.6" rx="2" fill="#2a2c34"/>
<ellipse cx="335.0" cy="14.0" rx="3.6" ry="4.3" fill="#5a4434" /><rect x="330.2" y="17.6" width="9.6" height="10.8" rx="2" fill="#e8e8ee"/><rect x="330.2" y="27.2" width="9.6" height="9.6" rx="2" fill="#2a2c34"/>
<ellipse cx="352.0" cy="10.0" rx="3.6" ry="4.3" fill="#5a4434" /><rect x="347.2" y="13.6" width="9.6" height="10.8" rx="2" fill="#6a6a70"/><rect x="347.2" y="23.2" width="9.6" height="9.6" rx="2" fill="#2a2c34"/>
<ellipse cx="365.0" cy="14.0" rx="3.6" ry="4.3" fill="#5a4434" /><rect x="360.2" y="17.6" width="9.6" height="10.8" rx="2" fill="#3b8fd0"/><rect x="360.2" y="27.2" width="9.6" height="9.6" rx="2" fill="#2a2c34"/>
</g>
<rect x="-5.0" y="52.0" width="380.2" height="10.0" rx="0" fill="#52565c"/>
<path d="M-5,95 L200,105 L235,150 L215,228 L-5,228 Z" fill="#76797c" opacity="1.00" filter="url(#b8)"/>
<g filter="url(#grassTex)"><path d="M-5,95 L200,105 L235,150 L215,228 L-5,228 Z" fill="#fff" filter="url(#b8)"/></g>
<g opacity="0.45" filter="url(#b05)">
<path d="M2.8,230.0 q-0.9,-36.0 -3.0,-60.1" stroke="#cdb587" stroke-width="1.2" fill="none"/>
<ellipse cx="-0.2" cy="169.9" rx="1.8" ry="8.8" fill="#cdb587" transform="rotate(-6 -0.2 169.9)"/>
<path d="M33.2,230.0 q1.4,-70.8 4.5,-118.1" stroke="#b9a37c" stroke-width="1.4" fill="none"/>
<path d="M118.4,230.0 q0.8,-41.2 2.6,-68.6" stroke="#cdb587" stroke-width="1.0" fill="none"/>
<path d="M90.7,230.0 q-1.4,-40.8 -4.8,-68.0" stroke="#dcc89e" stroke-width="2.0" fill="none"/>
<ellipse cx="85.9" cy="162.0" rx="2.6" ry="7.1" fill="#dcc89e" transform="rotate(-10 85.9 162.0)"/>
<path d="M149.1,230.0 q-3.8,-33.1 -12.6,-55.2" stroke="#b9a37c" stroke-width="1.6" fill="none"/>
<ellipse cx="136.6" cy="174.8" rx="2.8" ry="9.9" fill="#b9a37c" transform="rotate(-25 136.6 174.8)"/>
<path d="M6.8,230.0 q3.1,-70.5 10.3,-117.5" stroke="#b9a37c" stroke-width="1.3" fill="none"/>
<ellipse cx="17.1" cy="112.5" rx="2.1" ry="6.7" fill="#b9a37c" transform="rotate(21 17.1 112.5)"/>
<path d="M184.2,230.0 q-2.0,-56.5 -6.6,-94.2" stroke="#dcc89e" stroke-width="1.5" fill="none"/>
<ellipse cx="177.6" cy="135.8" rx="2.5" ry="9.2" fill="#dcc89e" transform="rotate(-13 177.6 135.8)"/>
<path d="M216.3,230.0 q4.1,-83.9 13.8,-139.8" stroke="#dcc89e" stroke-width="2.4" fill="none"/>
<path d="M210.6,230.0 q-1.7,-76.2 -5.7,-127.1" stroke="#b9a37c" stroke-width="1.3" fill="none"/>
<path d="M135.3,230.0 q-3.4,-68.3 -11.3,-113.9" stroke="#a8946f" stroke-width="1.5" fill="none"/>
<ellipse cx="124.0" cy="116.1" rx="2.8" ry="9.4" fill="#a8946f" transform="rotate(-23 124.0 116.1)"/>
<path d="M25.6,230.0 q-1.4,-41.0 -4.6,-68.4" stroke="#a8946f" stroke-width="2.3" fill="none"/>
<path d="M26.6,230.0 q4.1,-35.3 13.5,-58.8" stroke="#cdb587" stroke-width="2.5" fill="none"/>
<ellipse cx="40.1" cy="171.2" rx="1.7" ry="10.0" fill="#cdb587" transform="rotate(27 40.1 171.2)"/>
<path d="M34.2,230.0 q0.9,-33.0 3.1,-55.0" stroke="#c4ad80" stroke-width="1.4" fill="none"/>
<ellipse cx="37.3" cy="175.0" rx="2.4" ry="8.2" fill="#c4ad80" transform="rotate(6 37.3 175.0)"/>
<path d="M8.6,230.0 q-3.0,-36.0 -10.1,-60.0" stroke="#c4ad80" stroke-width="2.1" fill="none"/>
<path d="M172.7,230.0 q2.2,-43.9 7.4,-73.2" stroke="#a8946f" stroke-width="1.6" fill="none"/>
<ellipse cx="180.1" cy="156.8" rx="2.1" ry="6.4" fill="#a8946f" transform="rotate(15 180.1 156.8)"/>
<path d="M39.6,230.0 q-3.2,-32.3 -10.5,-53.9" stroke="#c4ad80" stroke-width="1.1" fill="none"/>
<path d="M46.5,230.0 q2.7,-40.5 9.0,-67.5" stroke="#dcc89e" stroke-width="2.1" fill="none"/>
<path d="M125.7,230.0 q1.8,-58.3 5.9,-97.1" stroke="#c4ad80" stroke-width="1.6" fill="none"/>
<path d="M161.3,230.0 q1.8,-55.4 6.1,-92.3" stroke="#a8946f" stroke-width="1.5" fill="none"/>
<ellipse cx="167.4" cy="137.7" rx="2.3" ry="6.7" fill="#a8946f" transform="rotate(12 167.4 137.7)"/>
<path d="M43.1,230.0 q-1.0,-46.0 -3.4,-76.7" stroke="#b9a37c" stroke-width="1.1" fill="none"/>
<path d="M164.8,230.0 q-2.1,-41.3 -7.1,-68.9" stroke="#dcc89e" stroke-width="1.3" fill="none"/>
<path d="M69.1,230.0 q3.5,-62.3 11.7,-103.9" stroke="#dcc89e" stroke-width="2.2" fill="none"/>
<path d="M7.4,230.0 q3.3,-63.9 11.1,-106.4" stroke="#dcc89e" stroke-width="1.9" fill="none"/>
<ellipse cx="18.5" cy="123.6" rx="2.6" ry="6.1" fill="#dcc89e" transform="rotate(22 18.5 123.6)"/>
<path d="M7.5,230.0 q1.7,-54.4 5.8,-90.6" stroke="#b9a37c" stroke-width="1.3" fill="none"/>
<ellipse cx="13.3" cy="139.4" rx="2.5" ry="6.8" fill="#b9a37c" transform="rotate(12 13.3 139.4)"/>
<path d="M173.5,230.0 q-2.1,-33.5 -7.0,-55.8" stroke="#c4ad80" stroke-width="2.1" fill="none"/>
<path d="M101.7,230.0 q1.3,-65.9 4.4,-109.9" stroke="#a8946f" stroke-width="1.1" fill="none"/>
<ellipse cx="106.1" cy="120.1" rx="1.9" ry="7.4" fill="#a8946f" transform="rotate(9 106.1 120.1)"/>
<path d="M1.3,230.0 q-1.0,-29.8 -3.4,-49.7" stroke="#dcc89e" stroke-width="1.5" fill="none"/>
<path d="M130.4,230.0 q2.3,-52.2 7.8,-86.9" stroke="#b9a37c" stroke-width="1.4" fill="none"/>
<ellipse cx="138.1" cy="143.1" rx="2.4" ry="8.8" fill="#b9a37c" transform="rotate(16 138.1 143.1)"/>
<path d="M191.2,230.0 q1.7,-66.9 5.8,-111.6" stroke="#cdb587" stroke-width="1.6" fill="none"/>
<path d="M211.7,230.0 q0.2,-67.1 0.5,-111.9" stroke="#dcc89e" stroke-width="1.5" fill="none"/>
<ellipse cx="212.3" cy="118.1" rx="2.5" ry="7.8" fill="#dcc89e" transform="rotate(1 212.3 118.1)"/>
<path d="M49.9,230.0 q2.7,-52.6 9.1,-87.6" stroke="#b9a37c" stroke-width="2.5" fill="none"/>
<ellipse cx="58.9" cy="142.4" rx="2.8" ry="7.1" fill="#b9a37c" transform="rotate(18 58.9 142.4)"/>
<path d="M205.3,230.0 q-3.3,-44.9 -11.0,-74.9" stroke="#c4ad80" stroke-width="1.1" fill="none"/>
<ellipse cx="194.3" cy="155.1" rx="2.2" ry="10.0" fill="#c4ad80" transform="rotate(-22 194.3 155.1)"/>
<path d="M31.7,230.0 q-1.6,-32.5 -5.2,-54.1" stroke="#cdb587" stroke-width="2.5" fill="none"/>
<ellipse cx="26.4" cy="175.9" rx="2.8" ry="7.7" fill="#cdb587" transform="rotate(-10 26.4 175.9)"/>
<path d="M17.2,230.0 q-0.2,-57.1 -0.7,-95.2" stroke="#dcc89e" stroke-width="1.8" fill="none"/>
<ellipse cx="16.5" cy="134.8" rx="2.5" ry="9.5" fill="#dcc89e" transform="rotate(-1 16.5 134.8)"/>
<path d="M186.1,230.0 q-1.4,-70.1 -4.5,-116.8" stroke="#b9a37c" stroke-width="2.6" fill="none"/>
<ellipse cx="181.6" cy="113.2" rx="2.0" ry="9.7" fill="#b9a37c" transform="rotate(-9 181.6 113.2)"/>
<path d="M88.2,230.0 q1.0,-78.0 3.3,-130.0" stroke="#b9a37c" stroke-width="1.7" fill="none"/>
<path d="M153.9,230.0 q-3.9,-76.3 -12.9,-127.1" stroke="#a8946f" stroke-width="1.7" fill="none"/>
<ellipse cx="141.0" cy="102.9" rx="2.7" ry="8.7" fill="#a8946f" transform="rotate(-26 141.0 102.9)"/>
<path d="M204.9,230.0 q3.4,-70.7 11.5,-117.9" stroke="#a8946f" stroke-width="1.4" fill="none"/>
<ellipse cx="216.3" cy="112.1" rx="1.6" ry="5.3" fill="#a8946f" transform="rotate(23 216.3 112.1)"/>
<path d="M196.0,230.0 q1.8,-46.8 5.9,-78.0" stroke="#b9a37c" stroke-width="1.2" fill="none"/>
<ellipse cx="201.9" cy="152.0" rx="1.8" ry="6.7" fill="#b9a37c" transform="rotate(12 201.9 152.0)"/>
<path d="M215.9,230.0 q-1.6,-53.1 -5.2,-88.6" stroke="#dcc89e" stroke-width="2.0" fill="none"/>
<path d="M94.5,230.0 q1.3,-33.6 4.2,-56.1" stroke="#dcc89e" stroke-width="2.3" fill="none"/>
<path d="M26.2,230.0 q1.7,-77.0 5.8,-128.3" stroke="#dcc89e" stroke-width="1.4" fill="none"/>
<path d="M97.2,230.0 q-3.4,-34.2 -11.4,-56.9" stroke="#c4ad80" stroke-width="2.4" fill="none"/>
<ellipse cx="85.9" cy="173.1" rx="1.7" ry="7.2" fill="#c4ad80" transform="rotate(-23 85.9 173.1)"/>
<path d="M35.0,230.0 q-1.5,-44.0 -5.0,-73.3" stroke="#dcc89e" stroke-width="1.9" fill="none"/>
<path d="M27.0,230.0 q0.9,-69.0 3.1,-115.0" stroke="#b9a37c" stroke-width="1.9" fill="none"/>
<path d="M172.6,230.0 q0.4,-44.4 1.3,-74.0" stroke="#a8946f" stroke-width="2.0" fill="none"/>
<path d="M192.6,230.0 q-2.0,-83.8 -6.7,-139.7" stroke="#cdb587" stroke-width="2.0" fill="none"/>
<ellipse cx="185.8" cy="90.3" rx="2.5" ry="5.7" fill="#cdb587" transform="rotate(-13 185.8 90.3)"/>
<path d="M216.1,230.0 q1.8,-69.8 6.1,-116.3" stroke="#b9a37c" stroke-width="1.7" fill="none"/>
<path d="M38.8,230.0 q1.5,-58.2 5.1,-97.0" stroke="#c4ad80" stroke-width="1.6" fill="none"/>
<ellipse cx="43.9" cy="133.0" rx="2.8" ry="9.1" fill="#c4ad80" transform="rotate(10 43.9 133.0)"/>
<path d="M75.6,230.0 q1.4,-57.5 4.6,-95.8" stroke="#b9a37c" stroke-width="2.2" fill="none"/>
<ellipse cx="80.2" cy="134.2" rx="2.0" ry="6.0" fill="#b9a37c" transform="rotate(9 80.2 134.2)"/>
</g>
<path d="M44,100 Q40,84 70,76 Q115,66 160,62 L280,58 Q332,60 356,76 Q366,92 350,108 Q320,122 270,128 Q220,135 170,135 Q82,132 56,120 Q44,112 44,100 Z" fill="#d5cfc5" opacity="1.00" filter="url(#b1)"/>
<path d="M136,38 Q140,27 162,27 L250,25 Q262,30 260,46 Q258,66 240,74 L160,76 Q140,70 137,56 Z" fill="#c6beb1" opacity="1.00" filter="url(#b1)"/>
<path d="M138,46 Q198,52 259,44" stroke="#a39a8a" stroke-width="2" fill="none"/>
<path d="M145,30 L238,28 L235,38 L150,40 Z" fill="#6da24e" opacity="1.00" filter="url(#b1)"/>
<ellipse cx="212.0" cy="33.0" rx="8.0" ry="8.0" fill="#5aaaea" filter="url(#b1)"/><ellipse cx="222.0" cy="24.0" rx="7.0" ry="8.0" fill="#8cc4f0" filter="url(#b1)"/><ellipse cx="203.0" cy="28.0" rx="5.0" ry="6.0" fill="#e8c8ea" filter="url(#b1)"/>
<path d="M60,52 Q68,44 78,52 L90,36 Q102,32 108,45 L112,70 L106,98 L62,98 Q55,75 60,52 Z" fill="#d2cbbf" opacity="1.00" filter="url(#b2)"/>
<path d="M132,58 Q142,52 150,62 L155,95 L150,120 L135,120 Q128,90 132,58 Z" fill="#cec6b9" opacity="1.00" filter="url(#b2)"/>
<path d="M232,55 Q242,50 250,58 L255,90 L250,115 L235,115 Q228,85 232,55 Z" fill="#cec6b9" opacity="1.00" filter="url(#b2)"/>
<path d="M290,25 Q300,18 310,26 L318,38 Q330,34 336,44 L338,82 L290,82 Q285,50 290,25 Z" fill="#d2cbbf" opacity="1.00" filter="url(#b2)"/>
<path d="M64,60 C81,116 112,114 132,68" stroke="#3b3430" stroke-width="2.4" fill="none" stroke-dasharray="3 1.4"/>
<path d="M250,70 C268,114 300,112 322,50" stroke="#3b3430" stroke-width="2.4" fill="none" stroke-dasharray="3 1.4"/>
<path d="M98,98 L98,110 M286,96 L286,108" stroke="#3b3430" stroke-width="2"/>
<path d="M136,78 Q152,82 170,84 M222,80 Q242,75 258,62" stroke="#d9b59c" stroke-width="5" fill="none" filter="url(#b1)"/>
<ellipse cx="205.0" cy="98.0" rx="44.0" ry="44.0" fill="#f5e8e6" opacity="0.85" filter="url(#b4)"/>
<ellipse cx="200.0" cy="62.0" rx="8.0" ry="11.0" fill="#4a3a32" filter="url(#b1)"/>
<path d="M166,78 Q185,72 210,72 Q225,75 228,80 L222,110 L172,112 Q165,95 166,78 Z" fill="#f2f2f4" opacity="1.00" filter="url(#b1)"/>
<linearGradient id="sk3" x1="0" y1="0" x2="0" y2="1"><stop offset="0" stop-color="#f3b8a4"/><stop offset="0.5" stop-color="#f8d8cf"/><stop offset="1" stop-color="#fcf1ee"/></linearGradient><ellipse cx="206.4" cy="143.0" rx="52.2" ry="43.4" fill="#f6e6e2" opacity="0.85" filter="url(#b4)"/><path d="M181.0,104.0 L227.0,104.0 Q256.6,139.0 256.6,168.0 Q206.0,180.0 159.4,168.0 Q155.4,139.0 181.0,104.0 Z" fill="url(#sk3)" opacity="1.00" filter="url(#b2)"/><path d="M161.4,154.0 Q206.0,164.0 250.6,152.0" stroke="#ef9f9c" stroke-width="2" fill="none" opacity="0.8" filter="url(#b05)"/><path d="M159.4,162.0 Q206.0,172.0 252.6,160.0" stroke="#ef9f9c" stroke-width="1.6" fill="none" opacity="0.7" filter="url(#b05)"/>
<path d="M193,168 L191,196 L198,198 L202,168 Z" fill="#d6b090" opacity="1.00" filter="url(#b1)"/>
<path d="M-5,40 L8,40 Q14,55 8,66 L-5,66 Z" fill="#ecdcf0" opacity="1.00" filter="url(#b2)"/>
</g>
<clipPath id="rc3"><rect x="0" y="0" width="370.2" height="222.0"/></clipPath>
<g transform="translate(36.8,910.0)" clip-path="url(#rc3)">
<rect x="-2" y="-2" width="374.2" height="226.0" fill="#52565c"/>
<rect x="0" y="0" width="370.2" height="222.0" filter="url(#grain)"/>
<g filter="url(#b1)">
<rect x="-5" y="-5" width="380.2" height="55.0" fill="#7f7a5c"/>
<rect x="-5.0" y="24.0" width="380.2" height="31.0" rx="0" fill="#2d2f33"/>
<ellipse cx="22.0" cy="6.0" rx="3.9" ry="4.7" fill="#5a4434" /><rect x="16.8" y="9.9" width="10.4" height="11.7" rx="2" fill="#e0dcd8"/><rect x="16.8" y="20.3" width="10.4" height="10.4" rx="2" fill="#2a2c34"/>
<ellipse cx="40.0" cy="6.0" rx="3.9" ry="4.7" fill="#5a4434" /><rect x="34.8" y="9.9" width="10.4" height="11.7" rx="2" fill="#4a4048"/><rect x="34.8" y="20.3" width="10.4" height="10.4" rx="2" fill="#2a2c34"/>
<ellipse cx="58.0" cy="4.0" rx="3.9" ry="4.7" fill="#5a4434" /><rect x="52.8" y="7.9" width="10.4" height="11.7" rx="2" fill="#bab0a8"/><rect x="52.8" y="18.3" width="10.4" height="10.4" rx="2" fill="#2a2c34"/>
<ellipse cx="72.0" cy="6.0" rx="3.9" ry="4.7" fill="#5a4434" /><rect x="66.8" y="9.9" width="10.4" height="11.7" rx="2" fill="#d8d8dc"/><rect x="66.8" y="20.3" width="10.4" height="10.4" rx="2" fill="#2a2c34"/>
<rect x="118.0" y="0.0" width="30.0" height="26.0" rx="3" fill="#4aa3e4"/>
<rect x="132.0" y="0.0" width="38.0" height="26.0" rx="3" fill="#60aee6"/>
<rect x="150.0" y="0.0" width="20.0" height="30.0" rx="3" fill="#3b7fc8"/>
<ellipse cx="104.0" cy="4.0" rx="3.6" ry="4.3" fill="#5a4434" /><rect x="99.2" y="7.6" width="9.6" height="10.8" rx="2" fill="#a8d8e0"/><rect x="99.2" y="17.2" width="9.6" height="9.6" rx="2" fill="#2a2c34"/>
<ellipse cx="118.0" cy="6.0" rx="3.6" ry="4.3" fill="#5a4434" /><rect x="113.2" y="9.6" width="9.6" height="10.8" rx="2" fill="#2a5ab0"/><rect x="113.2" y="19.2" width="9.6" height="9.6" rx="2" fill="#2a2c34"/>
<ellipse cx="166.0" cy="6.0" rx="5.0" ry="7.0" fill="#70c070" />
<ellipse cx="180.0" cy="8.0" rx="6.0" ry="7.0" fill="#e8a060" />
<ellipse cx="192.0" cy="10.0" rx="5.0" ry="6.0" fill="#e8c8e0" />
<rect x="210.0" y="0.0" width="30.0" height="18.0" rx="3" fill="#3b8fd0"/>
<rect x="228.0" y="0.0" width="22.0" height="16.0" rx="3" fill="#6ab0ea"/>
<ellipse cx="272.0" cy="4.0" rx="3.6" ry="4.3" fill="#5a4434" /><rect x="267.2" y="7.6" width="9.6" height="10.8" rx="2" fill="#e8d8d0"/><rect x="267.2" y="17.2" width="9.6" height="9.6" rx="2" fill="#2a2c34"/>
<rect x="312.0" y="0.0" width="28.0" height="28.0" rx="3" fill="#8cc4f0"/>
<rect x="316.0" y="16.0" width="22.0" height="12.0" rx="3" fill="#4a9ae0"/>
<ellipse cx="340.0" cy="4.0" rx="3.6" ry="4.3" fill="#5a4434" /><rect x="335.2" y="7.6" width="9.6" height="10.8" rx="2" fill="#e0d8d0"/><rect x="335.2" y="17.2" width="9.6" height="9.6" rx="2" fill="#2a2c34"/>
<ellipse cx="358.0" cy="6.0" rx="3.6" ry="4.3" fill="#5a4434" /><rect x="353.2" y="9.6" width="9.6" height="10.8" rx="2" fill="#c8c0b8"/><rect x="353.2" y="19.2" width="9.6" height="9.6" rx="2" fill="#2a2c34"/>
<ellipse cx="368.0" cy="14.0" rx="3.6" ry="4.3" fill="#5a4434" /><rect x="363.2" y="17.6" width="9.6" height="10.8" rx="2" fill="#e8e8ee"/><rect x="363.2" y="27.2" width="9.6" height="9.6" rx="2" fill="#2a2c34"/>
</g>
<rect x="-5.0" y="44.0" width="380.2" height="10.0" rx="0" fill="#52565c"/>
<path d="M-5,80 L240,105 L270,160 L240,228 L-5,228 Z" fill="#76797c" opacity="1.00" filter="url(#b8)"/>
<g filter="url(#grassTex)"><path d="M-5,80 L240,105 L270,160 L240,228 L-5,228 Z" fill="#fff" filter="url(#b8)"/></g>
<g opacity="0.45" filter="url(#b05)">
<path d="M95.3,230.0 q-2.8,-48.0 -9.4,-80.0" stroke="#a8946f" stroke-width="1.9" fill="none"/>
<path d="M138.3,230.0 q1.9,-57.5 6.5,-95.9" stroke="#c4ad80" stroke-width="1.0" fill="none"/>
<ellipse cx="144.8" cy="134.1" rx="3.0" ry="5.1" fill="#c4ad80" transform="rotate(13 144.8 134.1)"/>
<path d="M237.2,230.0 q4.0,-95.2 13.4,-158.6" stroke="#dcc89e" stroke-width="1.3" fill="none"/>
<path d="M155.2,230.0 q2.4,-37.3 8.0,-62.2" stroke="#cdb587" stroke-width="1.7" fill="none"/>
<ellipse cx="163.2" cy="167.8" rx="2.6" ry="5.4" fill="#cdb587" transform="rotate(16 163.2 167.8)"/>
<path d="M90.1,230.0 q0.5,-63.3 1.5,-105.4" stroke="#cdb587" stroke-width="1.2" fill="none"/>
<path d="M172.2,230.0 q-3.8,-94.8 -12.5,-157.9" stroke="#dcc89e" stroke-width="1.4" fill="none"/>
<ellipse cx="159.7" cy="72.1" rx="2.4" ry="7.2" fill="#dcc89e" transform="rotate(-25 159.7 72.1)"/>
<path d="M199.2,230.0 q-0.8,-37.2 -2.8,-62.0" stroke="#cdb587" stroke-width="2.1" fill="none"/>
<ellipse cx="196.3" cy="168.0" rx="2.5" ry="7.5" fill="#cdb587" transform="rotate(-6 196.3 168.0)"/>
<path d="M98.7,230.0 q-3.1,-35.0 -10.2,-58.3" stroke="#a8946f" stroke-width="2.5" fill="none"/>
<ellipse cx="88.5" cy="171.7" rx="2.3" ry="6.4" fill="#a8946f" transform="rotate(-20 88.5 171.7)"/>
<path d="M7.0,230.0 q-0.3,-34.5 -1.0,-57.5" stroke="#b9a37c" stroke-width="1.2" fill="none"/>
<ellipse cx="6.0" cy="172.5" rx="1.6" ry="9.3" fill="#b9a37c" transform="rotate(-2 6.0 172.5)"/>
<path d="M218.6,230.0 q-3.3,-80.5 -10.9,-134.1" stroke="#b9a37c" stroke-width="2.4" fill="none"/>
<ellipse cx="207.7" cy="95.9" rx="2.6" ry="5.4" fill="#b9a37c" transform="rotate(-22 207.7 95.9)"/>
<path d="M132.2,230.0 q-3.4,-71.1 -11.2,-118.5" stroke="#b9a37c" stroke-width="1.4" fill="none"/>
<ellipse cx="121.0" cy="111.5" rx="2.2" ry="8.6" fill="#b9a37c" transform="rotate(-22 121.0 111.5)"/>
<path d="M197.2,230.0 q1.4,-38.8 4.7,-64.6" stroke="#c4ad80" stroke-width="1.3" fill="none"/>
<path d="M69.2,230.0 q-1.5,-89.6 -4.9,-149.3" stroke="#c4ad80" stroke-width="1.6" fill="none"/>
<path d="M187.8,230.0 q-2.4,-79.3 -8.0,-132.1" stroke="#b9a37c" stroke-width="1.3" fill="none"/>
<ellipse cx="179.8" cy="97.9" rx="2.2" ry="6.2" fill="#b9a37c" transform="rotate(-16 179.8 97.9)"/>
<path d="M246.9,230.0 q1.0,-67.8 3.4,-113.0" stroke="#a8946f" stroke-width="1.5" fill="none"/>
<ellipse cx="250.4" cy="117.0" rx="2.5" ry="5.6" fill="#a8946f" transform="rotate(7 250.4 117.0)"/>
<path d="M249.4,230.0 q1.8,-71.0 6.0,-118.3" stroke="#c4ad80" stroke-width="2.2" fill="none"/>
<ellipse cx="255.3" cy="111.7" rx="2.0" ry="6.4" fill="#c4ad80" transform="rotate(12 255.3 111.7)"/>
<path d="M88.5,230.0 q1.8,-44.7 5.8,-74.6" stroke="#b9a37c" stroke-width="2.0" fill="none"/>
<path d="M162.4,230.0 q1.9,-44.6 6.4,-74.4" stroke="#cdb587" stroke-width="1.1" fill="none"/>
<path d="M173.4,230.0 q-0.8,-47.0 -2.8,-78.3" stroke="#dcc89e" stroke-width="1.5" fill="none"/>
<ellipse cx="170.6" cy="151.7" rx="2.1" ry="6.2" fill="#dcc89e" transform="rotate(-6 170.6 151.7)"/>
<path d="M30.8,230.0 q1.0,-77.7 3.4,-129.5" stroke="#a8946f" stroke-width="1.5" fill="none"/>
<path d="M172.9,230.0 q0.0,-48.5 0.0,-80.9" stroke="#c4ad80" stroke-width="1.7" fill="none"/>
<ellipse cx="172.9" cy="149.1" rx="2.9" ry="6.5" fill="#c4ad80" transform="rotate(0 172.9 149.1)"/>
<path d="M61.8,230.0 q0.6,-63.0 1.9,-105.0" stroke="#a8946f" stroke-width="1.1" fill="none"/>
<path d="M179.1,230.0 q-4.0,-77.8 -13.2,-129.7" stroke="#b9a37c" stroke-width="1.7" fill="none"/>
<ellipse cx="165.9" cy="100.3" rx="2.9" ry="7.9" fill="#b9a37c" transform="rotate(-26 165.9 100.3)"/>
<path d="M106.9,230.0 q-2.8,-34.6 -9.4,-57.7" stroke="#c4ad80" stroke-width="1.8" fill="none"/>
<ellipse cx="97.6" cy="172.3" rx="2.5" ry="7.7" fill="#c4ad80" transform="rotate(-19 97.6 172.3)"/>
<path d="M6.8,230.0 q-1.9,-85.0 -6.4,-141.7" stroke="#cdb587" stroke-width="1.9" fill="none"/>
<path d="M61.6,230.0 q-3.8,-78.9 -12.8,-131.5" stroke="#dcc89e" stroke-width="1.9" fill="none"/>
<path d="M122.4,230.0 q1.9,-69.0 6.2,-115.1" stroke="#b9a37c" stroke-width="1.6" fill="none"/>
<ellipse cx="128.6" cy="114.9" rx="1.6" ry="8.3" fill="#b9a37c" transform="rotate(12 128.6 114.9)"/>
<path d="M233.8,230.0 q-4.1,-87.0 -13.5,-145.1" stroke="#dcc89e" stroke-width="1.2" fill="none"/>
<ellipse cx="220.3" cy="84.9" rx="1.6" ry="9.2" fill="#dcc89e" transform="rotate(-27 220.3 84.9)"/>
<path d="M249.9,230.0 q2.1,-75.4 7.1,-125.6" stroke="#dcc89e" stroke-width="1.8" fill="none"/>
<ellipse cx="257.0" cy="104.4" rx="1.6" ry="6.9" fill="#dcc89e" transform="rotate(14 257.0 104.4)"/>
<path d="M40.1,230.0 q-2.0,-62.1 -6.6,-103.6" stroke="#cdb587" stroke-width="1.1" fill="none"/>
<ellipse cx="33.5" cy="126.4" rx="2.0" ry="9.6" fill="#cdb587" transform="rotate(-13 33.5 126.4)"/>
<path d="M80.8,230.0 q-3.8,-34.6 -12.5,-57.6" stroke="#a8946f" stroke-width="2.6" fill="none"/>
<path d="M173.0,230.0 q3.5,-89.5 11.6,-149.2" stroke="#dcc89e" stroke-width="1.8" fill="none"/>
<path d="M68.4,230.0 q2.1,-94.7 7.1,-157.8" stroke="#a8946f" stroke-width="2.2" fill="none"/>
<path d="M101.0,230.0 q1.4,-74.7 4.7,-124.5" stroke="#c4ad80" stroke-width="1.9" fill="none"/>
<ellipse cx="105.8" cy="105.5" rx="2.5" ry="9.5" fill="#c4ad80" transform="rotate(9 105.8 105.5)"/>
<path d="M61.5,230.0 q2.1,-84.3 7.1,-140.5" stroke="#c4ad80" stroke-width="1.1" fill="none"/>
<path d="M80.4,230.0 q3.6,-51.3 11.9,-85.5" stroke="#dcc89e" stroke-width="1.4" fill="none"/>
<ellipse cx="92.3" cy="144.5" rx="2.8" ry="10.0" fill="#dcc89e" transform="rotate(24 92.3 144.5)"/>
<path d="M76.3,230.0 q0.4,-58.9 1.2,-98.1" stroke="#cdb587" stroke-width="1.6" fill="none"/>
<path d="M93.4,230.0 q0.8,-82.8 2.8,-138.0" stroke="#a8946f" stroke-width="1.7" fill="none"/>
<ellipse cx="96.2" cy="92.0" rx="2.7" ry="5.3" fill="#a8946f" transform="rotate(6 96.2 92.0)"/>
<path d="M152.8,230.0 q-0.0,-34.9 -0.1,-58.2" stroke="#cdb587" stroke-width="1.8" fill="none"/>
<path d="M118.1,230.0 q-3.8,-83.5 -12.7,-139.1" stroke="#cdb587" stroke-width="2.0" fill="none"/>
<ellipse cx="105.4" cy="90.9" rx="1.6" ry="9.5" fill="#cdb587" transform="rotate(-25 105.4 90.9)"/>
<path d="M224.0,230.0 q1.6,-83.8 5.3,-139.7" stroke="#cdb587" stroke-width="1.1" fill="none"/>
<path d="M68.6,230.0 q-0.9,-94.1 -3.1,-156.8" stroke="#cdb587" stroke-width="1.2" fill="none"/>
<path d="M160.9,230.0 q2.6,-91.4 8.8,-152.3" stroke="#c4ad80" stroke-width="1.6" fill="none"/>
<ellipse cx="169.7" cy="77.7" rx="1.8" ry="8.7" fill="#c4ad80" transform="rotate(18 169.7 77.7)"/>
<path d="M146.8,230.0 q2.9,-39.0 9.6,-65.0" stroke="#c4ad80" stroke-width="1.3" fill="none"/>
<path d="M51.7,230.0 q1.1,-92.5 3.8,-154.1" stroke="#dcc89e" stroke-width="1.8" fill="none"/>
<path d="M61.2,230.0 q-4.0,-47.6 -13.3,-79.3" stroke="#cdb587" stroke-width="1.1" fill="none"/>
<path d="M234.1,230.0 q-2.1,-53.9 -7.1,-89.9" stroke="#b9a37c" stroke-width="1.2" fill="none"/>
<ellipse cx="227.0" cy="140.1" rx="1.8" ry="7.9" fill="#b9a37c" transform="rotate(-14 227.0 140.1)"/>
<path d="M195.6,230.0 q-3.6,-38.7 -12.0,-64.4" stroke="#cdb587" stroke-width="2.3" fill="none"/>
<path d="M22.7,230.0 q-1.1,-95.2 -3.8,-158.6" stroke="#cdb587" stroke-width="1.2" fill="none"/>
<ellipse cx="18.9" cy="71.4" rx="2.9" ry="8.7" fill="#cdb587" transform="rotate(-8 18.9 71.4)"/>
<path d="M46.6,230.0 q0.4,-62.2 1.2,-103.6" stroke="#dcc89e" stroke-width="1.8" fill="none"/>
<ellipse cx="47.8" cy="126.4" rx="2.0" ry="9.2" fill="#dcc89e" transform="rotate(2 47.8 126.4)"/>
<path d="M124.3,230.0 q3.4,-61.4 11.5,-102.3" stroke="#a8946f" stroke-width="2.0" fill="none"/>
<ellipse cx="135.8" cy="127.7" rx="2.9" ry="5.1" fill="#a8946f" transform="rotate(23 135.8 127.7)"/>
<path d="M37.9,230.0 q-0.4,-60.7 -1.2,-101.1" stroke="#b9a37c" stroke-width="2.5" fill="none"/>
<path d="M230.2,230.0 q-1.3,-48.0 -4.3,-80.0" stroke="#cdb587" stroke-width="1.9" fill="none"/>
<ellipse cx="225.9" cy="150.0" rx="2.8" ry="9.9" fill="#cdb587" transform="rotate(-9 225.9 150.0)"/>
<path d="M53.4,230.0 q1.1,-34.0 3.8,-56.6" stroke="#c4ad80" stroke-width="1.8" fill="none"/>
<path d="M167.5,230.0 q3.6,-70.6 11.9,-117.6" stroke="#c4ad80" stroke-width="2.1" fill="none"/>
<ellipse cx="179.4" cy="112.4" rx="2.6" ry="8.1" fill="#c4ad80" transform="rotate(24 179.4 112.4)"/>
</g>
<path d="M70,90 Q68,75 95,68 Q140,58 170,54 L300,50 Q360,52 372,58 L372,110 Q340,118 300,123 Q240,128 180,126 Q100,122 78,110 Q68,100 70,90 Z" fill="#d5cfc5" opacity="1.00" filter="url(#b1)"/>
<path d="M158,30 Q162,20 180,19 L272,17 Q285,23 283,40 Q281,62 262,68 L180,70 Q160,64 158,50 Z" fill="#c6beb1" opacity="1.00" filter="url(#b1)"/>
<path d="M160,38 Q220,44 282,36" stroke="#a39a8a" stroke-width="2" fill="none"/>
<path d="M168,22 L262,20 L258,30 L172,32 Z" fill="#6da24e" opacity="1.00" filter="url(#b1)"/>
<ellipse cx="232.0" cy="22.0" rx="8.0" ry="8.0" fill="#5aaaea" filter="url(#b1)"/><ellipse cx="243.0" cy="15.0" rx="7.0" ry="8.0" fill="#8cc4f0" filter="url(#b1)"/><ellipse cx="224.0" cy="18.0" rx="5.0" ry="6.0" fill="#e8c8ea" filter="url(#b1)"/>
<path d="M85,36 Q95,28 105,38 L112,24 Q124,21 130,34 L135,60 L128,88 L88,88 Q80,60 85,36 Z" fill="#d2cbbf" opacity="1.00" filter="url(#b2)"/>
<path d="M158,48 Q168,42 176,52 L180,80 L175,100 L160,100 Q153,75 158,48 Z" fill="#cec6b9" opacity="1.00" filter="url(#b2)"/>
<path d="M258,46 Q270,40 280,50 L284,85 L280,112 L262,112 Q255,80 258,46 Z" fill="#cec6b9" opacity="1.00" filter="url(#b2)"/>
<path d="M315,18 Q328,12 338,20 L345,30 Q358,26 364,38 L366,78 L318,78 Q312,45 315,18 Z" fill="#d2cbbf" opacity="1.00" filter="url(#b2)"/>
<path d="M88,48 C106,108 137,106 158,55" stroke="#3b3430" stroke-width="2.4" fill="none" stroke-dasharray="3 1.4"/>
<path d="M278,56 C296,110 330,108 352,42" stroke="#3b3430" stroke-width="2.4" fill="none" stroke-dasharray="3 1.4"/>
<path d="M122,92 L122,104 M316,90 L316,100" stroke="#3b3430" stroke-width="2"/>
<path d="M162,52 Q172,54 182,58" stroke="#d9b59c" stroke-width="5" fill="none" filter="url(#b1)"/>
<ellipse cx="204.0" cy="36.0" rx="9.0" ry="12.0" fill="#3f332e" filter="url(#b1)"/>
<path d="M198,42 Q196,52 194,62 M210,42 Q212,52 210,62" stroke="#3f332e" stroke-width="2.5" fill="none"/>
<path d="M178,55 Q195,46 212,48 Q222,56 222,70 L220,84 L185,86 Q178,70 178,55 Z" fill="#f2f2f4" opacity="1.00" filter="url(#b1)"/>
<linearGradient id="sk4" x1="0" y1="0" x2="0" y2="1"><stop offset="0" stop-color="#f3b8a4"/><stop offset="0.5" stop-color="#f8d8cf"/><stop offset="1" stop-color="#fcf1ee"/></linearGradient><ellipse cx="208.4" cy="115.0" rx="49.9" ry="38.4" fill="#f6e6e2" opacity="0.85" filter="url(#b4)"/><path d="M184.0,80.0 L228.0,80.0 Q256.4,111.0 256.4,136.0 Q208.0,148.0 163.6,136.0 Q159.6,111.0 184.0,80.0 Z" fill="url(#sk4)" opacity="1.00" filter="url(#b2)"/><path d="M165.6,122.0 Q208.0,132.0 250.4,120.0" stroke="#ef9f9c" stroke-width="2" fill="none" opacity="0.8" filter="url(#b05)"/><path d="M163.6,130.0 Q208.0,140.0 252.4,128.0" stroke="#ef9f9c" stroke-width="1.6" fill="none" opacity="0.7" filter="url(#b05)"/>
<path d="M196,138 L194,172 M214,138 L218,176" stroke="#d0a88c" stroke-width="6" fill="none" filter="url(#b1)"/>
<path d="M-5,18 L18,18 Q30,38 26,56 L-5,56 Z" fill="#eec8e8" opacity="1.00" filter="url(#b2)"/>
<path d="M4,52 L8,70 L12,70 L10,52 Z" fill="#c9a488" opacity="1.00" filter="url(#b1)"/>
</g>
<clipPath id="rc4"><rect x="0" y="0" width="370.2" height="221.5"/></clipPath>
<g transform="translate(36.8,1132.0)" clip-path="url(#rc4)">
<rect x="-2" y="-2" width="374.2" height="225.5" fill="#52565c"/>
<rect x="0" y="0" width="370.2" height="221.5" filter="url(#grain)"/>
<g filter="url(#b1)">
<rect x="-5" y="-5" width="380.2" height="45.0" fill="#7f7a5c"/>
<rect x="-5.0" y="18.0" width="380.2" height="27.0" rx="0" fill="#2d2f33"/>
<ellipse cx="30.0" cy="4.0" rx="3.6" ry="4.3" fill="#5a4434" /><rect x="25.2" y="7.6" width="9.6" height="10.8" rx="2" fill="#4a4048"/><rect x="25.2" y="17.2" width="9.6" height="9.6" rx="2" fill="#2a2c34"/>
<ellipse cx="48.0" cy="2.0" rx="3.6" ry="4.3" fill="#5a4434" /><rect x="43.2" y="5.6" width="9.6" height="10.8" rx="2" fill="#bab0a8"/><rect x="43.2" y="15.2" width="9.6" height="9.6" rx="2" fill="#2a2c34"/>
<ellipse cx="64.0" cy="4.0" rx="3.6" ry="4.3" fill="#5a4434" /><rect x="59.2" y="7.6" width="9.6" height="10.8" rx="2" fill="#d8d8dc"/><rect x="59.2" y="17.2" width="9.6" height="9.6" rx="2" fill="#2a2c34"/>
<rect x="118.0" y="0.0" width="30.0" height="24.0" rx="3" fill="#4aa3e4"/>
<rect x="132.0" y="0.0" width="38.0" height="22.0" rx="3" fill="#60aee6"/>
<ellipse cx="110.0" cy="2.0" rx="3.3" ry="4.0" fill="#5a4434" /><rect x="105.6" y="5.3" width="8.8" height="9.9" rx="2" fill="#a8d8e0"/><rect x="105.6" y="14.1" width="8.8" height="8.8" rx="2" fill="#2a2c34"/>
<ellipse cx="126.0" cy="4.0" rx="3.3" ry="4.0" fill="#5a4434" /><rect x="121.6" y="7.3" width="8.8" height="9.9" rx="2" fill="#2a5ab0"/><rect x="121.6" y="16.1" width="8.8" height="8.8" rx="2" fill="#2a2c34"/>
<ellipse cx="172.0" cy="4.0" rx="5.0" ry="6.0" fill="#70c070" />
<ellipse cx="186.0" cy="4.0" rx="6.0" ry="6.0" fill="#e8b060" />
<ellipse cx="198.0" cy="4.0" rx="5.0" ry="6.0" fill="#e8e060" />
<rect x="210.0" y="0.0" width="30.0" height="16.0" rx="3" fill="#3b8fd0"/>
<rect x="236.0" y="6.0" width="18.0" height="14.0" rx="3" fill="#6ab0ea"/>
<ellipse cx="278.0" cy="2.0" rx="3.3" ry="4.0" fill="#5a4434" /><rect x="273.6" y="5.3" width="8.8" height="9.9" rx="2" fill="#e8d8d0"/><rect x="273.6" y="14.1" width="8.8" height="8.8" rx="2" fill="#2a2c34"/>
<rect x="322.0" y="0.0" width="32.0" height="28.0" rx="3" fill="#5aa0d8"/>
<ellipse cx="344.0" cy="2.0" rx="3.6" ry="4.3" fill="#5a4434" /><rect x="339.2" y="5.6" width="9.6" height="10.8" rx="2" fill="#e0d8d0"/><rect x="339.2" y="15.2" width="9.6" height="9.6" rx="2" fill="#2a2c34"/>
<ellipse cx="362.0" cy="6.0" rx="3.6" ry="4.3" fill="#5a4434" /><rect x="357.2" y="9.6" width="9.6" height="10.8" rx="2" fill="#c8c0b8"/><rect x="357.2" y="19.2" width="9.6" height="9.6" rx="2" fill="#2a2c34"/>
</g>
<rect x="-5.0" y="36.0" width="380.2" height="10.0" rx="0" fill="#52565c"/>
<path d="M-5,60 L250,90 L285,150 L250,228 L-5,228 Z" fill="#76797c" opacity="1.00" filter="url(#b8)"/>
<g filter="url(#grassTex)"><path d="M-5,60 L250,90 L285,150 L250,228 L-5,228 Z" fill="#fff" filter="url(#b8)"/></g>
<g opacity="0.45" filter="url(#b05)">
<path d="M65.3,230.0 q-2.8,-71.8 -9.5,-119.7" stroke="#b9a37c" stroke-width="2.3" fill="none"/>
<ellipse cx="55.8" cy="110.3" rx="2.8" ry="7.7" fill="#b9a37c" transform="rotate(-19 55.8 110.3)"/>
<path d="M124.3,230.0 q0.2,-85.2 0.7,-142.0" stroke="#dcc89e" stroke-width="1.9" fill="none"/>
<ellipse cx="124.9" cy="88.0" rx="3.0" ry="7.0" fill="#dcc89e" transform="rotate(1 124.9 88.0)"/>
<path d="M263.7,230.0 q-4.0,-96.0 -13.2,-160.0" stroke="#dcc89e" stroke-width="1.1" fill="none"/>
<path d="M252.8,230.0 q-1.7,-61.1 -5.6,-101.9" stroke="#a8946f" stroke-width="2.3" fill="none"/>
<path d="M204.2,230.0 q2.2,-50.5 7.3,-84.2" stroke="#a8946f" stroke-width="2.5" fill="none"/>
<ellipse cx="211.5" cy="145.8" rx="1.5" ry="5.3" fill="#a8946f" transform="rotate(15 211.5 145.8)"/>
<path d="M28.5,230.0 q2.0,-91.6 6.6,-152.7" stroke="#c4ad80" stroke-width="1.2" fill="none"/>
<path d="M253.5,230.0 q1.5,-101.5 5.1,-169.2" stroke="#a8946f" stroke-width="2.5" fill="none"/>
<path d="M99.1,230.0 q4.0,-70.6 13.2,-117.7" stroke="#b9a37c" stroke-width="1.9" fill="none"/>
<path d="M132.7,230.0 q-0.5,-73.0 -1.7,-121.6" stroke="#cdb587" stroke-width="2.6" fill="none"/>
<path d="M210.6,230.0 q3.6,-106.0 12.1,-176.6" stroke="#c4ad80" stroke-width="1.2" fill="none"/>
<path d="M82.3,230.0 q-0.3,-73.9 -1.1,-123.1" stroke="#cdb587" stroke-width="1.5" fill="none"/>
<path d="M235.7,230.0 q-0.8,-96.7 -2.6,-161.2" stroke="#dcc89e" stroke-width="1.4" fill="none"/>
<path d="M157.2,230.0 q4.0,-51.9 13.4,-86.5" stroke="#cdb587" stroke-width="1.5" fill="none"/>
<ellipse cx="170.6" cy="143.5" rx="2.5" ry="7.2" fill="#cdb587" transform="rotate(27 170.6 143.5)"/>
<path d="M54.4,230.0 q1.8,-61.5 6.0,-102.5" stroke="#dcc89e" stroke-width="1.8" fill="none"/>
<ellipse cx="60.4" cy="127.5" rx="2.5" ry="7.1" fill="#dcc89e" transform="rotate(12 60.4 127.5)"/>
<path d="M210.3,230.0 q-0.3,-44.9 -1.0,-74.9" stroke="#cdb587" stroke-width="2.1" fill="none"/>
<ellipse cx="209.3" cy="155.1" rx="2.1" ry="5.4" fill="#cdb587" transform="rotate(-2 209.3 155.1)"/>
<path d="M135.9,230.0 q3.8,-89.2 12.5,-148.7" stroke="#c4ad80" stroke-width="2.1" fill="none"/>
<path d="M195.2,230.0 q-4.1,-70.2 -13.5,-116.9" stroke="#dcc89e" stroke-width="1.2" fill="none"/>
<path d="M261.0,230.0 q3.4,-64.8 11.3,-108.0" stroke="#a8946f" stroke-width="1.5" fill="none"/>
<ellipse cx="272.3" cy="122.0" rx="3.0" ry="9.9" fill="#a8946f" transform="rotate(23 272.3 122.0)"/>
<path d="M88.3,230.0 q0.1,-68.8 0.3,-114.6" stroke="#c4ad80" stroke-width="1.5" fill="none"/>
<path d="M1.5,230.0 q3.1,-46.2 10.3,-77.0" stroke="#b9a37c" stroke-width="2.3" fill="none"/>
<ellipse cx="11.8" cy="153.0" rx="2.1" ry="7.8" fill="#b9a37c" transform="rotate(21 11.8 153.0)"/>
<path d="M220.8,230.0 q-3.9,-73.7 -13.1,-122.8" stroke="#dcc89e" stroke-width="2.2" fill="none"/>
<ellipse cx="207.8" cy="107.2" rx="2.9" ry="5.4" fill="#dcc89e" transform="rotate(-26 207.8 107.2)"/>
<path d="M129.8,230.0 q2.4,-74.1 7.9,-123.4" stroke="#b9a37c" stroke-width="1.6" fill="none"/>
<path d="M21.3,230.0 q0.0,-70.7 0.1,-117.8" stroke="#cdb587" stroke-width="1.4" fill="none"/>
<path d="M49.8,230.0 q3.4,-92.7 11.2,-154.5" stroke="#c4ad80" stroke-width="2.5" fill="none"/>
<path d="M2.8,230.0 q1.9,-73.8 6.4,-122.9" stroke="#b9a37c" stroke-width="2.6" fill="none"/>
<path d="M128.0,230.0 q2.7,-46.5 9.0,-77.4" stroke="#c4ad80" stroke-width="1.7" fill="none"/>
<ellipse cx="137.0" cy="152.6" rx="2.9" ry="9.2" fill="#c4ad80" transform="rotate(18 137.0 152.6)"/>
<path d="M123.0,230.0 q4.1,-42.4 13.5,-70.6" stroke="#cdb587" stroke-width="1.5" fill="none"/>
<ellipse cx="136.5" cy="159.4" rx="1.8" ry="5.7" fill="#cdb587" transform="rotate(27 136.5 159.4)"/>
<path d="M17.4,230.0 q-2.5,-95.6 -8.4,-159.3" stroke="#a8946f" stroke-width="1.6" fill="none"/>
<path d="M254.0,230.0 q-3.5,-70.7 -11.6,-117.9" stroke="#cdb587" stroke-width="1.8" fill="none"/>
<path d="M45.1,230.0 q0.4,-63.6 1.4,-106.0" stroke="#cdb587" stroke-width="1.3" fill="none"/>
<path d="M24.6,230.0 q2.6,-69.7 8.6,-116.2" stroke="#c4ad80" stroke-width="1.0" fill="none"/>
<ellipse cx="33.2" cy="113.8" rx="2.0" ry="9.7" fill="#c4ad80" transform="rotate(17 33.2 113.8)"/>
<path d="M79.8,230.0 q3.1,-48.3 10.3,-80.5" stroke="#dcc89e" stroke-width="1.2" fill="none"/>
<ellipse cx="90.1" cy="149.5" rx="1.6" ry="8.6" fill="#dcc89e" transform="rotate(21 90.1 149.5)"/>
<path d="M87.2,230.0 q3.0,-43.7 10.0,-72.9" stroke="#c4ad80" stroke-width="2.2" fill="none"/>
<ellipse cx="97.2" cy="157.1" rx="2.5" ry="9.1" fill="#c4ad80" transform="rotate(20 97.2 157.1)"/>
<path d="M87.9,230.0 q-0.5,-77.8 -1.6,-129.7" stroke="#cdb587" stroke-width="1.0" fill="none"/>
<ellipse cx="86.3" cy="100.3" rx="1.6" ry="7.7" fill="#cdb587" transform="rotate(-3 86.3 100.3)"/>
<path d="M117.1,230.0 q-2.6,-60.0 -8.7,-100.0" stroke="#dcc89e" stroke-width="1.8" fill="none"/>
<ellipse cx="108.4" cy="130.0" rx="2.4" ry="8.8" fill="#dcc89e" transform="rotate(-17 108.4 130.0)"/>
<path d="M130.8,230.0 q2.8,-98.7 9.5,-164.5" stroke="#b9a37c" stroke-width="1.0" fill="none"/>
<ellipse cx="140.3" cy="65.5" rx="2.3" ry="5.8" fill="#b9a37c" transform="rotate(19 140.3 65.5)"/>
<path d="M134.0,230.0 q2.1,-83.3 7.1,-138.8" stroke="#a8946f" stroke-width="1.5" fill="none"/>
<path d="M134.3,230.0 q-3.2,-89.5 -10.6,-149.2" stroke="#b9a37c" stroke-width="1.6" fill="none"/>
<ellipse cx="123.7" cy="80.8" rx="2.2" ry="6.7" fill="#b9a37c" transform="rotate(-21 123.7 80.8)"/>
<path d="M81.9,230.0 q0.7,-81.7 2.2,-136.2" stroke="#cdb587" stroke-width="1.1" fill="none"/>
<ellipse cx="84.1" cy="93.8" rx="3.0" ry="7.1" fill="#cdb587" transform="rotate(4 84.1 93.8)"/>
<path d="M226.3,230.0 q3.7,-93.4 12.3,-155.7" stroke="#b9a37c" stroke-width="1.3" fill="none"/>
<path d="M81.3,230.0 q2.6,-61.7 8.7,-102.8" stroke="#b9a37c" stroke-width="1.3" fill="none"/>
<ellipse cx="90.0" cy="127.2" rx="2.4" ry="8.9" fill="#b9a37c" transform="rotate(17 90.0 127.2)"/>
<path d="M167.8,230.0 q-1.8,-58.5 -6.1,-97.5" stroke="#cdb587" stroke-width="1.4" fill="none"/>
<ellipse cx="161.7" cy="132.5" rx="2.6" ry="9.4" fill="#cdb587" transform="rotate(-12 161.7 132.5)"/>
<path d="M25.4,230.0 q-4.1,-70.1 -13.8,-116.8" stroke="#b9a37c" stroke-width="2.0" fill="none"/>
<path d="M26.6,230.0 q2.9,-54.4 9.6,-90.7" stroke="#a8946f" stroke-width="1.7" fill="none"/>
<ellipse cx="36.3" cy="139.3" rx="2.5" ry="6.1" fill="#a8946f" transform="rotate(19 36.3 139.3)"/>
<path d="M205.4,230.0 q0.4,-69.6 1.4,-116.1" stroke="#cdb587" stroke-width="2.5" fill="none"/>
<ellipse cx="206.8" cy="113.9" rx="2.6" ry="6.4" fill="#cdb587" transform="rotate(3 206.8 113.9)"/>
<path d="M2.9,230.0 q-2.6,-95.9 -8.7,-159.8" stroke="#dcc89e" stroke-width="1.4" fill="none"/>
<path d="M67.1,230.0 q1.3,-94.7 4.3,-157.9" stroke="#cdb587" stroke-width="1.5" fill="none"/>
<ellipse cx="71.4" cy="72.1" rx="2.7" ry="8.0" fill="#cdb587" transform="rotate(9 71.4 72.1)"/>
<path d="M35.6,230.0 q2.1,-63.0 6.9,-104.9" stroke="#cdb587" stroke-width="1.9" fill="none"/>
<ellipse cx="42.5" cy="125.1" rx="2.3" ry="8.4" fill="#cdb587" transform="rotate(14 42.5 125.1)"/>
<path d="M82.3,230.0 q3.9,-99.2 13.1,-165.3" stroke="#cdb587" stroke-width="1.0" fill="none"/>
<path d="M164.7,230.0 q1.5,-90.6 4.9,-150.9" stroke="#dcc89e" stroke-width="2.6" fill="none"/>
<ellipse cx="169.6" cy="79.1" rx="1.9" ry="6.1" fill="#dcc89e" transform="rotate(10 169.6 79.1)"/>
<path d="M244.2,230.0 q3.2,-93.4 10.6,-155.7" stroke="#a8946f" stroke-width="1.5" fill="none"/>
<path d="M91.2,230.0 q-2.3,-86.4 -7.6,-144.0" stroke="#c4ad80" stroke-width="1.2" fill="none"/>
<ellipse cx="83.6" cy="86.0" rx="2.9" ry="9.7" fill="#c4ad80" transform="rotate(-15 83.6 86.0)"/>
<path d="M244.1,230.0 q1.0,-43.9 3.3,-73.2" stroke="#dcc89e" stroke-width="1.5" fill="none"/>
<path d="M99.3,230.0 q0.2,-88.6 0.5,-147.7" stroke="#c4ad80" stroke-width="2.0" fill="none"/>
<path d="M156.1,230.0 q-0.2,-92.1 -0.7,-153.5" stroke="#a8946f" stroke-width="2.5" fill="none"/>
<path d="M52.8,230.0 q-2.1,-59.0 -7.1,-98.3" stroke="#b9a37c" stroke-width="1.5" fill="none"/>
<path d="M119.7,230.0 q-3.5,-55.9 -11.6,-93.2" stroke="#c4ad80" stroke-width="1.1" fill="none"/>
<ellipse cx="108.1" cy="136.8" rx="2.4" ry="9.8" fill="#c4ad80" transform="rotate(-23 108.1 136.8)"/>
<path d="M252.2,230.0 q3.6,-72.1 12.1,-120.1" stroke="#c4ad80" stroke-width="2.5" fill="none"/>
<path d="M212.8,230.0 q0.6,-74.0 1.9,-123.4" stroke="#dcc89e" stroke-width="1.3" fill="none"/>
<ellipse cx="214.7" cy="106.6" rx="3.0" ry="6.2" fill="#dcc89e" transform="rotate(4 214.7 106.6)"/>
<path d="M94.6,230.0 q-2.8,-78.7 -9.4,-131.2" stroke="#dcc89e" stroke-width="2.6" fill="none"/>
<ellipse cx="85.2" cy="98.8" rx="2.1" ry="9.0" fill="#dcc89e" transform="rotate(-19 85.2 98.8)"/>
</g>
<path d="M75,80 Q72,65 100,58 Q140,50 170,45 L300,42 Q350,45 362,55 L362,100 Q330,108 290,115 Q240,122 185,120 Q110,116 85,105 Q74,95 75,80 Z" fill="#d5cfc5" opacity="1.00" filter="url(#b1)"/>
<path d="M163,22 Q167,14 185,12 L277,10 Q290,16 288,32 Q286,54 267,60 L185,62 Q165,56 163,42 Z" fill="#c6beb1" opacity="1.00" filter="url(#b1)"/>
<path d="M165,32 Q225,38 287,30" stroke="#a39a8a" stroke-width="2" fill="none"/>
<path d="M194,14 L268,12 L264,22 L198,24 Z" fill="#6da24e" opacity="1.00" filter="url(#b1)"/>
<ellipse cx="240.0" cy="18.0" rx="8.0" ry="8.0" fill="#5aaaea" filter="url(#b1)"/><ellipse cx="250.0" cy="12.0" rx="7.0" ry="8.0" fill="#8cc4f0" filter="url(#b1)"/><ellipse cx="232.0" cy="14.0" rx="5.0" ry="6.0" fill="#e8c8ea" filter="url(#b1)"/>
<path d="M205,75 Q210,70 225,72 L258,74 Q264,80 262,92 Q260,104 245,107 L215,107 Q205,102 205,90 Z" fill="#cbc3b6" opacity="1.00" filter="url(#b1)"/>
<ellipse cx="232.0" cy="76.0" rx="22.0" ry="4.0" fill="#7a7166" filter="url(#b1)"/>
<path d="M90,30 Q100,24 110,32 L118,20 Q130,18 136,30 L140,55 L134,82 L92,82 Q84,55 90,30 Z" fill="#d2cbbf" opacity="1.00" filter="url(#b2)"/>
<path d="M212,26 Q222,20 230,30 L234,68 L228,78 L214,78 Q207,55 212,26 Z" fill="#a9a092" opacity="1.00" filter="url(#b2)"/>
<path d="M263,42 Q274,36 282,46 L286,80 L282,106 L265,106 Q258,75 263,42 Z" fill="#cec6b9" opacity="1.00" filter="url(#b2)"/>
<path d="M320,14 Q332,9 342,17 L348,27 Q360,23 366,35 L368,72 L322,72 Q316,42 320,14 Z" fill="#d2cbbf" opacity="1.00" filter="url(#b2)"/>
<path d="M92,42 C110,98 141,96 162,48" stroke="#3b3430" stroke-width="2.4" fill="none" stroke-dasharray="3 1.4"/>
<path d="M282,52 C300,102 334,100 356,40" stroke="#3b3430" stroke-width="2.4" fill="none" stroke-dasharray="3 1.4"/>
<path d="M127,84 L127,96 M322,86 L322,96" stroke="#3b3430" stroke-width="2"/>
<path d="M135,70 Q150,64 164,56 M186,0 Q188,10 190,22" stroke="#d9b59c" stroke-width="5" fill="none" filter="url(#b1)"/>
<ellipse cx="183.0" cy="24.0" rx="9.0" ry="12.0" fill="#3f332e" filter="url(#b1)"/>
<path d="M186,30 Q190,40 196,52" stroke="#3f332e" stroke-width="2.5" fill="none"/>
<path d="M160,42 Q175,32 192,32 Q200,40 200,55 L198,68 L165,70 Q158,55 160,42 Z" fill="#f2f2f4" opacity="1.00" filter="url(#b1)"/>
<linearGradient id="sk5" x1="0" y1="0" x2="0" y2="1"><stop offset="0" stop-color="#f3b8a4"/><stop offset="0.5" stop-color="#f8d8cf"/><stop offset="1" stop-color="#fcf1ee"/></linearGradient><ellipse cx="185.6" cy="96.0" rx="48.7" ry="34.7" fill="#f6e6e2" opacity="0.85" filter="url(#b4)"/><path d="M162.0,64.0 L202.0,64.0 Q233.4,92.0 233.4,114.0 Q185.0,126.0 142.6,114.0 Q136.6,92.0 162.0,64.0 Z" fill="url(#sk5)" opacity="1.00" filter="url(#b2)"/><path d="M142.6,100.0 Q185.0,110.0 227.4,98.0" stroke="#ef9f9c" stroke-width="2" fill="none" opacity="0.8" filter="url(#b05)"/><path d="M140.6,108.0 Q185.0,118.0 229.4,106.0" stroke="#ef9f9c" stroke-width="1.6" fill="none" opacity="0.7" filter="url(#b05)"/>
<path d="M174,118 L176,146 M196,118 L202,150" stroke="#d0a88c" stroke-width="6" fill="none" filter="url(#b1)"/>
<path d="M-5,6 L26,6 Q38,26 34,44 L-5,44 Z" fill="#f0b8e0" opacity="1.00" filter="url(#b2)"/>
<path d="M10,44 L12,58 L18,58 L16,44 Z" fill="#c9a488" opacity="1.00" filter="url(#b1)"/>
<path d="M356,68 L372,62 L372,112 L358,106 Z" fill="#6ab0ea" opacity="1.00" filter="url(#b2)"/>
<path d="M362,106 L366,126 L370,126 L370,106 Z" fill="#c9a488" opacity="1.00" filter="url(#b1)"/>
</g>
</g>
<rect x="31.9" y="246.6" width="380" height="1111.5" fill="none" stroke="#fdc898" stroke-width="9.8"/>
<g id="flow">
<defs>
<linearGradient id="fg1" x1="0" y1="0" x2="0" y2="1"><stop offset="0" stop-color="#a2b6fa"/><stop offset="0.5" stop-color="#98acf8"/><stop offset="1" stop-color="#90a6f7"/></linearGradient>
<linearGradient id="fg2" x1="0" y1="0" x2="0" y2="1"><stop offset="0" stop-color="#80a2f8"/><stop offset="1" stop-color="#88acf9"/></linearGradient>
<linearGradient id="fg3" x1="0" y1="0" x2="0" y2="1"><stop offset="0" stop-color="#fbbfe0"/><stop offset="0.7" stop-color="#f9b8e6"/><stop offset="1" stop-color="#f8b2ea"/></linearGradient>
<linearGradient id="fg4" x1="0" y1="0" x2="0" y2="1"><stop offset="0" stop-color="#aab8fa"/><stop offset="1" stop-color="#a6b4fa"/></linearGradient>
<linearGradient id="fg5" x1="0" y1="0" x2="0" y2="1"><stop offset="0" stop-color="#fdbfba"/><stop offset="1" stop-color="#fdc6bc"/></linearGradient>
<linearGradient id="fd1" x1="0" y1="0" x2="1" y2="0.3"><stop offset="0" stop-color="#eccdf4"/><stop offset="0.35" stop-color="#f6b4f2"/><stop offset="0.7" stop-color="#f8d6dc"/><stop offset="1" stop-color="#e8f098"/></linearGradient>
<linearGradient id="fd2" x1="0" y1="0" x2="1" y2="0"><stop offset="0" stop-color="#f67af0"/><stop offset="0.55" stop-color="#f68ad8"/><stop offset="1" stop-color="#f89a88"/></linearGradient>
<linearGradient id="fd3" x1="0" y1="0" x2="1" y2="1"><stop offset="0" stop-color="#50dcf8"/><stop offset="0.45" stop-color="#a0f4e8"/><stop offset="0.7" stop-color="#e8fcf4"/><stop offset="1" stop-color="#88b8f8"/></linearGradient>
<linearGradient id="fd4" x1="0" y1="0" x2="0.6" y2="1"><stop offset="0" stop-color="#90b0f8"/><stop offset="0.5" stop-color="#6070f0"/><stop offset="1" stop-color="#5418e8"/></linearGradient>
<linearGradient id="fd5" x1="0" y1="0" x2="0.5" y2="1"><stop offset="0" stop-color="#f8a488"/><stop offset="0.7" stop-color="#fbb89c"/><stop offset="1" stop-color="#fcc4a8"/></linearGradient>
<linearGradient id="fa3" x1="0" y1="0" x2="1" y2="0"><stop offset="0" stop-color="#f0f040"/><stop offset="0.4" stop-color="#90f050"/><stop offset="1" stop-color="#40f070"/></linearGradient>
<linearGradient id="fh3" x1="0" y1="0" x2="1" y2="0"><stop offset="0" stop-color="#30f040"/><stop offset="0.6" stop-color="#e8f838"/><stop offset="1" stop-color="#f8d840"/></linearGradient>
</defs>
<clipPath id="fc0"><rect x="1608.9" y="251.1" width="370.9" height="214.9"/></clipPath>
<g clip-path="url(#fc0)">
<rect x="1606.9" y="251" width="374.9" height="216" fill="url(#fg1)"/>
<path d="M1605,330 L1700,328 L1720,470 L1605,470 Z" fill="#8599f6" opacity="0.90" filter="url(#b14)"/>
<path d="M1700,360 L1790,365 L1790,470 L1700,470 Z" fill="#8ea2f6" opacity="0.60" filter="url(#b14)"/>
<path d="M1930,270 L1985,260 L1985,350 L1935,350 Z" fill="#8ea0f6" opacity="0.80" filter="url(#b8)"/>
<path d="M1880,400 L1985,380 L1985,470 L1880,470 Z" fill="#8ea6f6" opacity="0.60" filter="url(#b14)"/>
<path d="M1792.0,269.0 C1794.8,267.7 1798.0,268.8 1800.0,271.0 C1802.0,273.2 1803.3,278.5 1804.0,282.0 C1804.7,285.5 1803.5,288.2 1804.0,292.0 C1804.5,295.8 1806.3,300.0 1807.0,305.0 C1807.7,310.0 1806.3,317.2 1808.0,322.0 C1809.7,326.8 1813.3,330.3 1817.0,334.0 C1820.7,337.7 1825.2,342.0 1830.0,344.0 C1834.8,346.0 1841.8,344.5 1846.0,346.0 C1850.2,347.5 1854.2,349.3 1855.0,353.0 C1855.8,356.7 1852.8,363.8 1851.0,368.0 C1849.2,372.2 1845.5,374.7 1844.0,378.0 C1842.5,381.3 1844.3,384.8 1842.0,388.0 C1839.7,391.2 1834.8,394.8 1830.0,397.0 C1825.2,399.2 1816.3,402.3 1813.0,401.0 C1809.7,399.7 1811.5,390.5 1810.0,389.0 C1808.5,387.5 1805.7,390.2 1804.0,392.0 C1802.3,393.8 1801.8,399.5 1800.0,400.0 C1798.2,400.5 1796.7,395.7 1793.0,395.0 C1789.3,394.3 1782.3,397.2 1778.0,396.0 C1773.7,394.8 1768.8,391.7 1767.0,388.0 C1765.2,384.3 1766.2,378.5 1767.0,374.0 C1767.8,369.5 1770.3,366.3 1772.0,361.0 C1773.7,355.7 1775.2,346.8 1777.0,342.0 C1778.8,337.2 1782.3,336.0 1783.0,332.0 C1783.7,328.0 1781.8,322.0 1781.0,318.0 C1780.2,314.0 1777.5,311.0 1778.0,308.0 C1778.5,305.0 1782.8,303.0 1784.0,300.0 C1785.2,297.0 1785.2,293.5 1785.0,290.0 C1784.8,286.5 1781.8,282.5 1783.0,279.0 C1784.2,275.5 1789.2,270.3 1792.0,269.0Z" fill="url(#fd1)" opacity="1.00" filter="url(#b05)"/>
<path d="M1786.0,270.0 C1788.2,267.3 1795.0,268.0 1798.0,270.0 C1801.0,272.0 1803.3,278.3 1804.0,282.0 C1804.7,285.7 1804.0,290.0 1802.0,292.0 C1800.0,294.0 1794.8,295.0 1792.0,294.0 C1789.2,293.0 1786.0,290.0 1785.0,286.0 C1784.0,282.0 1783.8,272.7 1786.0,270.0Z" fill="#f8d6ec" opacity="1.00" filter="url(#b05)"/>
<path d="M1765.0,308.0 C1767.0,305.0 1776.8,304.3 1780.0,306.0 C1783.2,307.7 1784.0,314.8 1784.0,318.0 C1784.0,321.2 1782.7,324.0 1780.0,325.0 C1777.3,326.0 1770.5,326.8 1768.0,324.0 C1765.5,321.2 1763.0,311.0 1765.0,308.0Z" fill="#f058b0" opacity="1.00" filter="url(#b05)"/>
<path d="M1754.0,322.0 C1755.3,320.0 1761.7,320.0 1766.0,320.0 C1770.3,320.0 1777.0,320.3 1780.0,322.0 C1783.0,323.7 1784.3,327.3 1784.0,330.0 C1783.7,332.7 1780.7,336.5 1778.0,338.0 C1775.3,339.5 1771.3,340.0 1768.0,339.0 C1764.7,338.0 1760.3,334.8 1758.0,332.0 C1755.7,329.2 1752.7,324.0 1754.0,322.0Z" fill="#f02040" opacity="1.00" filter="url(#b05)"/>
<path d="M1846.0,346.0 C1847.8,345.3 1852.5,347.7 1854.0,350.0 C1855.5,352.3 1855.5,356.8 1855.0,360.0 C1854.5,363.2 1852.7,368.0 1851.0,369.0 C1849.3,370.0 1846.3,368.5 1845.0,366.0 C1843.7,363.5 1842.8,357.3 1843.0,354.0 C1843.2,350.7 1844.2,346.7 1846.0,346.0Z" fill="#c8f070" opacity="1.00" filter="url(#b1)"/>
<path d="M1842.0,424.0 C1842.3,422.0 1845.7,425.3 1848.0,428.0 C1850.3,430.7 1853.7,437.3 1856.0,440.0 C1858.3,442.7 1860.3,442.0 1862.0,444.0 C1863.7,446.0 1864.3,449.3 1866.0,452.0 C1867.7,454.7 1871.0,457.3 1872.0,460.0 C1873.0,462.7 1874.3,466.7 1872.0,468.0 C1869.7,469.3 1861.0,470.7 1858.0,468.0 C1855.0,465.3 1856.0,456.7 1854.0,452.0 C1852.0,447.3 1848.0,444.7 1846.0,440.0 C1844.0,435.3 1841.7,426.0 1842.0,424.0Z" fill="#6482f0" opacity="1.00" filter="url(#b05)"/>
<path d="M1899.0,422.0 C1898.7,417.7 1906.5,421.0 1910.0,424.0 C1913.5,427.0 1916.7,436.3 1920.0,440.0 C1923.3,443.7 1927.3,443.3 1930.0,446.0 C1932.7,448.7 1932.7,453.7 1936.0,456.0 C1939.3,458.3 1947.3,458.0 1950.0,460.0 C1952.7,462.0 1956.7,466.7 1952.0,468.0 C1947.3,469.3 1928.7,471.0 1922.0,468.0 C1915.3,465.0 1915.8,457.7 1912.0,450.0 C1908.2,442.3 1899.3,426.3 1899.0,422.0Z" fill="#7890f2" opacity="0.80" filter="url(#b1)"/>
</g>
<clipPath id="fc1"><rect x="1608.9" y="466.0" width="370.9" height="222.0"/></clipPath>
<g clip-path="url(#fc1)">
<rect x="1606.9" y="465" width="374.9" height="225" fill="url(#fg2)"/>
<path d="M1605,575 L1735,580 L1740,690 L1605,690 Z" fill="#7aa0f7" opacity="0.60" filter="url(#b14)"/>
<path d="M1760,600 L1860,600 L1860,690 L1760,690 Z" fill="#8eb2fa" opacity="0.60" filter="url(#b14)"/>
<path d="M1945,500 L1985,490 L1985,600 L1950,590 Z" fill="#6a8cf4" opacity="0.80" filter="url(#b8)"/>
<path d="M1905,470 L1945,470 L1945,478 L1905,478 Z" fill="#4aa8f0" opacity="0.60" filter="url(#b2)"/>
<path d="M1761.5,484.7 Q1775,487 1787,502" stroke="#f4b0e0" stroke-width="6" fill="none" stroke-linecap="round" filter="url(#b05)"/>
<path d="M1744.0,527.0 C1745.5,526.2 1751.3,526.5 1756.0,527.0 C1760.7,527.5 1767.7,529.0 1772.0,530.0 C1776.3,531.0 1779.7,530.0 1782.0,533.0 C1784.3,536.0 1785.3,542.5 1786.0,548.0 C1786.7,553.5 1786.7,561.7 1786.0,566.0 C1785.3,570.3 1783.5,575.3 1782.0,574.0 C1780.5,572.7 1778.7,563.0 1777.0,558.0 C1775.3,553.0 1774.8,547.7 1772.0,544.0 C1769.2,540.3 1764.2,538.0 1760.0,536.0 C1755.8,534.0 1749.7,533.5 1747.0,532.0 C1744.3,530.5 1742.5,527.8 1744.0,527.0Z" fill="#f8c6d8" opacity="1.00" filter="url(#b05)"/>
<path d="M1796.0,487.0 C1798.5,487.0 1802.2,487.8 1804.0,490.0 C1805.8,492.2 1806.3,496.7 1807.0,500.0 C1807.7,503.3 1807.0,505.8 1808.0,510.0 C1809.0,514.2 1811.0,519.0 1813.0,525.0 C1815.0,531.0 1816.8,539.8 1820.0,546.0 C1823.2,552.2 1827.3,556.3 1832.0,562.0 C1836.7,567.7 1846.3,574.8 1848.0,580.0 C1849.7,585.2 1842.8,589.5 1842.0,593.0 C1841.2,596.5 1844.3,597.7 1843.0,601.0 C1841.7,604.3 1838.2,610.5 1834.0,613.0 C1829.8,615.5 1821.2,612.7 1818.0,616.0 C1814.8,619.3 1816.8,628.8 1815.0,633.0 C1813.2,637.2 1809.0,640.2 1807.0,641.0 C1805.0,641.8 1803.2,640.8 1803.0,638.0 C1802.8,635.2 1805.8,627.7 1806.0,624.0 C1806.2,620.3 1808.3,617.7 1804.0,616.0 C1799.7,614.3 1784.8,615.7 1780.0,614.0 C1775.2,612.3 1775.0,610.7 1775.0,606.0 C1775.0,601.3 1778.2,591.0 1780.0,586.0 C1781.8,581.0 1784.8,581.2 1786.0,576.0 C1787.2,570.8 1787.0,561.7 1787.0,555.0 C1787.0,548.3 1786.5,540.8 1786.0,536.0 C1785.5,531.2 1783.3,529.7 1784.0,526.0 C1784.7,522.3 1789.5,518.3 1790.0,514.0 C1790.5,509.7 1787.2,504.0 1787.0,500.0 C1786.8,496.0 1787.5,492.2 1789.0,490.0 C1790.5,487.8 1793.5,487.0 1796.0,487.0Z" fill="url(#fd2)" opacity="1.00" filter="url(#b05)"/>
<path d="M1786.0,488.0 C1788.3,485.7 1796.7,484.7 1800.0,486.0 C1803.3,487.3 1805.2,492.3 1806.0,496.0 C1806.8,499.7 1807.0,505.7 1805.0,508.0 C1803.0,510.3 1797.2,511.3 1794.0,510.0 C1790.8,508.7 1787.3,503.7 1786.0,500.0 C1784.7,496.3 1783.7,490.3 1786.0,488.0Z" fill="#f6a8e0" opacity="1.00" filter="url(#b05)"/>
<path d="M1772.0,514.0 C1774.7,512.0 1786.3,513.0 1790.0,514.0 C1793.7,515.0 1793.7,518.0 1794.0,520.0 C1794.3,522.0 1795.3,525.0 1792.0,526.0 C1788.7,527.0 1777.3,528.0 1774.0,526.0 C1770.7,524.0 1769.3,516.0 1772.0,514.0Z" fill="#f020c0" opacity="1.00" filter="url(#b05)"/>
<path d="M1856.0,652.0 C1857.0,649.3 1862.0,653.7 1864.0,656.0 C1866.0,658.3 1866.0,663.0 1868.0,666.0 C1870.0,669.0 1874.3,670.0 1876.0,674.0 C1877.7,678.0 1880.3,687.3 1878.0,690.0 C1875.7,692.7 1865.3,693.0 1862.0,690.0 C1858.7,687.0 1859.0,678.3 1858.0,672.0 C1857.0,665.7 1855.0,654.7 1856.0,652.0Z" fill="#6090f0" opacity="1.00" filter="url(#b05)"/>
<path d="M1918.0,652.0 C1919.3,646.3 1925.3,653.3 1928.0,656.0 C1930.7,658.7 1931.7,664.7 1934.0,668.0 C1936.3,671.3 1940.3,672.3 1942.0,676.0 C1943.7,679.7 1947.7,687.7 1944.0,690.0 C1940.3,692.3 1924.3,696.3 1920.0,690.0 C1915.7,683.7 1916.7,657.7 1918.0,652.0Z" fill="#6890f2" opacity="0.80" filter="url(#b1)"/>
</g>
<clipPath id="fc2"><rect x="1608.9" y="688.0" width="370.9" height="222.0"/></clipPath>
<g clip-path="url(#fc2)">
<rect x="1606.9" y="687" width="374.9" height="225" fill="url(#fg3)"/>
<path d="M1640,780 Q1700,765 1760,780 L1760,800 Q1700,810 1640,795 Z" fill="#fccce8" opacity="0.70" filter="url(#b8)"/>
<path d="M1605,850 L1780,850 L1780,912 L1605,912 Z" fill="#f8aaea" opacity="0.50" filter="url(#b14)"/>
<path d="M1880,850 L1985,850 L1985,912 L1880,912 Z" fill="#fcc4ec" opacity="0.60" filter="url(#b14)"/>
<path d="M1880,690 L1905,690 L1900,720 L1885,715 Z" fill="#f8bcea" opacity="0.80" filter="url(#b4)"/>
<path d="M1780.0,801.0 C1779.3,802.5 1781.0,810.7 1784.0,816.0 C1787.0,821.3 1792.5,829.2 1798.0,833.0 C1803.5,836.8 1811.3,839.0 1817.0,839.0 C1822.7,839.0 1827.5,836.8 1832.0,833.0 C1836.5,829.2 1841.7,822.2 1844.0,816.0 C1846.3,809.8 1846.5,801.7 1846.0,796.0 C1845.5,790.3 1843.3,786.0 1841.0,782.0 C1838.7,778.0 1835.5,772.8 1832.0,772.0 C1828.5,771.2 1822.8,774.5 1820.0,777.0 C1817.2,779.5 1816.8,783.8 1815.0,787.0 C1813.2,790.2 1811.2,793.0 1809.0,796.0 C1806.8,799.0 1805.5,803.2 1802.0,805.0 C1798.5,806.8 1791.7,807.7 1788.0,807.0 C1784.3,806.3 1780.7,799.5 1780.0,801.0Z" fill="url(#fd3)" opacity="1.00" filter="url(#b05)"/>
<path d="M1815.0,786.0 C1816.0,782.3 1822.5,778.7 1826.0,778.0 C1829.5,777.3 1833.7,779.0 1836.0,782.0 C1838.3,785.0 1840.7,792.0 1840.0,796.0 C1839.3,800.0 1835.3,805.3 1832.0,806.0 C1828.7,806.7 1822.8,803.3 1820.0,800.0 C1817.2,796.7 1814.0,789.7 1815.0,786.0Z" fill="#b0f4b0" opacity="0.85" filter="url(#b2)"/>
<path d="M1800.0,737.0 C1803.2,733.0 1811.0,733.8 1814.0,736.0 C1817.0,738.2 1817.3,744.3 1818.0,750.0 C1818.7,755.7 1818.7,764.0 1818.0,770.0 C1817.3,776.0 1815.7,781.7 1814.0,786.0 C1812.3,790.3 1810.3,793.7 1808.0,796.0 C1805.7,798.3 1802.3,801.0 1800.0,800.0 C1797.7,799.0 1795.7,794.2 1794.0,790.0 C1792.3,785.8 1789.8,780.0 1790.0,775.0 C1790.2,770.0 1793.3,766.3 1795.0,760.0 C1796.7,753.7 1796.8,741.0 1800.0,737.0Z" fill="#f8c0c8" opacity="1.00" filter="url(#b1)"/>
<path d="M1790.0,762.0 C1792.0,758.7 1797.7,757.0 1800.0,760.0 C1802.3,763.0 1804.0,773.7 1804.0,780.0 C1804.0,786.3 1802.0,795.3 1800.0,798.0 C1798.0,800.7 1794.0,799.0 1792.0,796.0 C1790.0,793.0 1788.3,785.7 1788.0,780.0 C1787.7,774.3 1788.0,765.3 1790.0,762.0Z" fill="#fbeef4" opacity="0.90" filter="url(#b1)"/>
<path d="M1767.0,750.0 C1768.0,747.3 1771.8,746.5 1776.0,746.0 C1780.2,745.5 1788.7,746.0 1792.0,747.0 C1795.3,748.0 1796.3,749.8 1796.0,752.0 C1795.7,754.2 1794.3,758.3 1790.0,760.0 C1785.7,761.7 1773.8,763.7 1770.0,762.0 C1766.2,760.3 1766.0,752.7 1767.0,750.0Z" fill="url(#fh3)" opacity="1.00" filter="url(#b05)"/>
<path d="M1766.0,762.0 C1767.7,759.5 1775.7,760.7 1780.0,761.0 C1784.3,761.3 1789.7,761.8 1792.0,764.0 C1794.3,766.2 1795.3,771.8 1794.0,774.0 C1792.7,776.2 1788.0,776.7 1784.0,777.0 C1780.0,777.3 1773.0,778.5 1770.0,776.0 C1767.0,773.5 1764.3,764.5 1766.0,762.0Z" fill="#78f0f8" opacity="1.00" filter="url(#b1)"/>
<path d="M1816.0,750.0 C1817.3,747.3 1823.3,750.3 1826.0,752.0 C1828.7,753.7 1831.7,757.3 1832.0,760.0 C1832.3,762.7 1830.3,766.7 1828.0,768.0 C1825.7,769.3 1820.0,771.0 1818.0,768.0 C1816.0,765.0 1814.7,752.7 1816.0,750.0Z" fill="#f8e0a0" opacity="1.00" filter="url(#b1)"/>
<path d="M1821,767 Q1842,762 1856,752 Q1862,748 1868,745" stroke="url(#fa3)" stroke-width="6" fill="none" stroke-linecap="round" filter="url(#b05)"/>
<path d="M1861,754 L1870,779" stroke="#5aa4e8" stroke-width="2" fill="none"/>
</g>
<clipPath id="fc3"><rect x="1608.9" y="910.0" width="370.9" height="222.0"/></clipPath>
<g clip-path="url(#fc3)">
<rect x="1606.9" y="909" width="374.9" height="225" fill="url(#fg4)"/>
<path d="M1605,910 L1740,910 L1730,1132 L1605,1132 Z" fill="#a0aaf8" opacity="0.60" filter="url(#b14)"/>
<path d="M1860,910 L1985,910 L1985,1132 L1860,1132 Z" fill="#aabefa" opacity="0.60" filter="url(#b14)"/>
<path d="M1690,990 Q1750,985 1790,1000 L1790,1020 Q1750,1022 1690,1005 Z" fill="#b6bcfa" opacity="0.70" filter="url(#b8)"/>
<path d="M1609.0,915.0 C1610.8,908.0 1616.5,913.8 1620.0,918.0 C1623.5,922.2 1628.0,933.3 1630.0,940.0 C1632.0,946.7 1633.3,954.3 1632.0,958.0 C1630.7,961.7 1625.8,961.7 1622.0,962.0 C1618.2,962.3 1611.2,967.8 1609.0,960.0 C1606.8,952.2 1607.2,922.0 1609.0,915.0Z" fill="#b8ccf8" opacity="1.00" filter="url(#b2)"/>
<path d="M1896.0,912.0 C1899.0,908.3 1905.0,909.3 1906.0,912.0 C1907.0,914.7 1904.0,923.3 1902.0,928.0 C1900.0,932.7 1896.3,939.0 1894.0,940.0 C1891.7,941.0 1887.7,938.7 1888.0,934.0 C1888.3,929.3 1893.0,915.7 1896.0,912.0Z" fill="#96a6f6" opacity="1.00" filter="url(#b2)"/>
<path d="M1800.0,935.0 C1801.8,930.8 1807.7,932.8 1810.0,935.0 C1812.3,937.2 1813.7,943.5 1814.0,948.0 C1814.3,952.5 1813.3,958.7 1812.0,962.0 C1810.7,965.3 1808.2,968.3 1806.0,968.0 C1803.8,967.7 1800.0,965.5 1799.0,960.0 C1798.0,954.5 1798.2,939.2 1800.0,935.0Z" fill="#c4b8f8" opacity="1.00" filter="url(#b2)"/>
<path d="M1775.0,1007.0 C1773.2,1010.7 1774.5,1015.3 1777.0,1019.0 C1779.5,1022.7 1785.0,1025.3 1790.0,1029.0 C1795.0,1032.7 1799.3,1038.3 1807.0,1041.0 C1814.7,1043.7 1827.8,1046.2 1836.0,1045.0 C1844.2,1043.8 1852.8,1039.7 1856.0,1034.0 C1859.2,1028.3 1857.5,1015.3 1855.0,1011.0 C1852.5,1006.7 1845.2,1010.7 1841.0,1008.0 C1836.8,1005.3 1834.0,998.2 1830.0,995.0 C1826.0,991.8 1821.7,990.5 1817.0,989.0 C1812.3,987.5 1806.8,984.7 1802.0,986.0 C1797.2,987.3 1792.5,993.5 1788.0,997.0 C1783.5,1000.5 1776.8,1003.3 1775.0,1007.0Z" fill="url(#fd4)" opacity="1.00" filter="url(#b05)"/>
<path d="M1806.0,962.0 C1808.3,959.0 1818.3,959.0 1822.0,962.0 C1825.7,965.0 1827.3,974.5 1828.0,980.0 C1828.7,985.5 1828.0,992.7 1826.0,995.0 C1824.0,997.3 1819.0,996.5 1816.0,994.0 C1813.0,991.5 1809.7,985.3 1808.0,980.0 C1806.3,974.7 1803.7,965.0 1806.0,962.0Z" fill="#d488f8" opacity="1.00" filter="url(#b1)"/>
<path d="M1777.0,996.0 C1777.3,992.5 1782.7,985.8 1786.0,983.0 C1789.3,980.2 1794.3,978.8 1797.0,979.0 C1799.7,979.2 1802.2,981.2 1802.0,984.0 C1801.8,986.8 1799.0,992.7 1796.0,996.0 C1793.0,999.3 1787.2,1004.0 1784.0,1004.0 C1780.8,1004.0 1776.7,999.5 1777.0,996.0Z" fill="#a4f090" opacity="1.00" filter="url(#b05)"/>
<path d="M1783.0,962.0 C1784.3,960.2 1791.2,958.8 1794.0,959.0 C1796.8,959.2 1799.3,961.2 1800.0,963.0 C1800.7,964.8 1800.3,968.8 1798.0,970.0 C1795.7,971.2 1788.5,971.3 1786.0,970.0 C1783.5,968.7 1781.7,963.8 1783.0,962.0Z" fill="#eef4fa" opacity="1.00" filter="url(#b05)"/>
<path d="M1824,994 Q1834,1008 1842,1026" stroke="#f020f0" stroke-width="6" fill="none" stroke-linecap="round" filter="url(#b1)"/>
<path d="M1836.0,1010.0 C1839.2,1005.3 1851.7,1008.0 1855.0,1012.0 C1858.3,1016.0 1857.5,1028.7 1856.0,1034.0 C1854.5,1039.3 1849.3,1043.0 1846.0,1044.0 C1842.7,1045.0 1837.7,1045.7 1836.0,1040.0 C1834.3,1034.3 1832.8,1014.7 1836.0,1010.0Z" fill="#a048f0" opacity="0.70" filter="url(#b2)"/>
</g>
<clipPath id="fc4"><rect x="1608.9" y="1132.0" width="370.9" height="222.0"/></clipPath>
<g clip-path="url(#fc4)">
<rect x="1606.9" y="1131" width="374.9" height="225" fill="url(#fg5)"/>
<path d="M1609.0,1133.0 C1611.2,1126.5 1618.8,1130.2 1622.0,1133.0 C1625.2,1135.8 1625.3,1143.8 1628.0,1150.0 C1630.7,1156.2 1637.3,1165.3 1638.0,1170.0 C1638.7,1174.7 1635.3,1177.0 1632.0,1178.0 C1628.7,1179.0 1621.8,1177.0 1618.0,1176.0 C1614.2,1175.0 1610.5,1179.2 1609.0,1172.0 C1607.5,1164.8 1606.8,1139.5 1609.0,1133.0Z" fill="#f894a8" opacity="0.85" filter="url(#b2)"/>
<path d="M1783.0,1130.0 C1784.8,1127.2 1788.7,1126.3 1791.0,1130.0 C1793.3,1133.7 1795.0,1146.3 1797.0,1152.0 C1799.0,1157.7 1802.3,1158.8 1803.0,1164.0 C1803.7,1169.2 1801.8,1178.2 1801.0,1183.0 C1800.2,1187.8 1797.2,1189.7 1798.0,1193.0 C1798.8,1196.3 1803.0,1198.8 1806.0,1203.0 C1809.0,1207.2 1812.3,1214.3 1816.0,1218.0 C1819.7,1221.7 1825.7,1222.2 1828.0,1225.0 C1830.3,1227.8 1831.0,1232.3 1830.0,1235.0 C1829.0,1237.7 1825.2,1239.7 1822.0,1241.0 C1818.8,1242.3 1813.2,1239.5 1811.0,1243.0 C1808.8,1246.5 1809.8,1261.2 1809.0,1262.0 C1808.2,1262.8 1809.0,1250.5 1806.0,1248.0 C1803.0,1245.5 1798.2,1247.5 1791.0,1247.0 C1783.8,1246.5 1767.8,1247.3 1763.0,1245.0 C1758.2,1242.7 1761.5,1237.5 1762.0,1233.0 C1762.5,1228.5 1764.2,1223.0 1766.0,1218.0 C1767.8,1213.0 1771.0,1207.2 1773.0,1203.0 C1775.0,1198.8 1778.3,1196.3 1778.0,1193.0 C1777.7,1189.7 1775.2,1182.0 1771.0,1183.0 C1766.8,1184.0 1754.3,1198.0 1753.0,1199.0 C1751.7,1200.0 1759.2,1193.5 1763.0,1189.0 C1766.8,1184.5 1773.0,1175.7 1776.0,1172.0 C1779.0,1168.3 1780.3,1171.2 1781.0,1167.0 C1781.7,1162.8 1779.7,1153.2 1780.0,1147.0 C1780.3,1140.8 1781.2,1132.8 1783.0,1130.0Z" fill="url(#fd5)" opacity="0.90" filter="url(#b2)"/>
<path d="M1818.0,1220.0 C1820.0,1218.7 1826.0,1221.3 1828.0,1224.0 C1830.0,1226.7 1831.0,1233.3 1830.0,1236.0 C1829.0,1238.7 1824.3,1240.7 1822.0,1240.0 C1819.7,1239.3 1816.7,1235.3 1816.0,1232.0 C1815.3,1228.7 1816.0,1221.3 1818.0,1220.0Z" fill="#f8c860" opacity="1.00" filter="url(#b2)"/>
<path d="M1817.0,1134.0 C1818.7,1132.0 1827.5,1132.3 1830.0,1134.0 C1832.5,1135.7 1833.7,1142.0 1832.0,1144.0 C1830.3,1146.0 1822.5,1147.7 1820.0,1146.0 C1817.5,1144.3 1815.3,1136.0 1817.0,1134.0Z" fill="#fcd2dc" opacity="0.80" filter="url(#b2)"/>
<path d="M1952,1159 Q1966,1156 1980,1158 L1980,1166 Q1966,1168 1954,1165 Z" fill="#e82418" opacity="1.00" filter="url(#b05)"/>
<path d="M1958,1170 Q1970,1168 1980,1170 L1980,1174 Q1968,1176 1958,1174 Z" fill="#f8a0b0" opacity="0.80" filter="url(#b1)"/>
<path d="M1972.0,1180.0 C1974.0,1174.3 1978.7,1166.0 1980.0,1176.0 C1981.3,1186.0 1981.3,1230.0 1980.0,1240.0 C1978.7,1250.0 1974.0,1241.0 1972.0,1236.0 C1970.0,1231.0 1968.0,1219.3 1968.0,1210.0 C1968.0,1200.7 1970.0,1185.7 1972.0,1180.0Z" fill="#f8b898" opacity="0.80" filter="url(#b2)"/>
</g>
</g>
<rect x="1604.1" y="246.3" width="380" height="1111.9" fill="none" stroke="#a283bd" stroke-width="9.6"/>
<path d="M417.0,797.0 C424.8,768.2 439.3,714.2 438.8,529.9 C438.3,341.4 453.3,231.5 488.0,231.4" fill="none" stroke="#fdc898" stroke-width="5"/>
<polygon points="508.4,230.9 483.15,243.6 486.7,231.33 482.66,219.2" fill="#fdc898"/>
<path d="M417.0,797.0 C440,797 462,795 468.5,784 C473,776 473,758 488,757.6" fill="none" stroke="#fdc898" stroke-width="5"/>
<polygon points="508.4,757.5 482.95,769.8 486.7,757.59 482.85,745.4" fill="#fdc898"/>
<path d="M417.0,797.0 C429.8,854.9 432.3,917.1 433.4,1092.8 C434.6,1267.5 470.5,1297.2 488.0,1297.2" fill="none" stroke="#fdc898" stroke-width="5"/>
<polygon points="508.3,1297.1 482.85,1309.4 486.6,1297.19 482.75,1285" fill="#fdc898"/>
<path d="M1599.0,802.0 C1584.2,795.1 1563.5,733.5 1565.2,541.3 C1566.9,345.6 1546.5,231.4 1522.0,231.3" fill="none" stroke="#a680b8" stroke-width="5"/>
<polygon points="1501.9,231.1 1527.5,219.1 1523.6,231.27 1527.3,243.5" fill="#a680b8"/>
<path d="M1599,802 C1575,802 1545,800 1538,788 C1532,776 1535,759 1522,757.6" fill="none" stroke="#a680b8" stroke-width="5"/>
<polygon points="1502.5,757.5 1528.05,745.4 1524.2,757.59 1527.95,769.8" fill="#a680b8"/>
<path d="M1599.0,802.0 C1569.4,829.9 1569.0,918.5 1567.8,1094.7 C1566.6,1275.1 1524.2,1297.3 1522.0,1297.3" fill="none" stroke="#a680b8" stroke-width="5"/>
<polygon points="1502.2,1297.1 1527.8,1285.11 1523.9,1297.27 1527.6,1309.51" fill="#a680b8"/>
<text x="656.3" y="60.6" font-size="51" font-weight="bold" font-style="normal" text-anchor="middle" fill="#000">Appearance Feature</text>
<text x="1363.4" y="60.6" font-size="51" font-weight="bold" font-style="normal" text-anchor="middle" fill="#000">Motion Feature</text>
<text x="215.7" y="228.6" font-size="51" font-weight="bold" font-style="normal" text-anchor="middle" fill="#000">RGB</text>
<text x="1791.3" y="231.7" font-size="51" font-weight="bold" font-style="normal" text-anchor="middle" fill="#000">Flow</text>
<rect x="510.5" y="74.6" width="279" height="316.8" rx="40" fill="#dce8f5"/>
<line x1="550.5" y1="74.6" x2="749.5" y2="74.6" fill="none" stroke="#000" stroke-width="3.2" stroke-dasharray="9.3 9.65" stroke-dashoffset="-1.9"/>
<line x1="789.5" y1="114.6" x2="789.5" y2="351.4" fill="none" stroke="#000" stroke-width="3.2" stroke-dasharray="9.3 9.65" stroke-dashoffset="-8.2"/>
<line x1="550.5" y1="391.4" x2="749.5" y2="391.4" fill="none" stroke="#000" stroke-width="3.2" stroke-dasharray="9.3 9.65" stroke-dashoffset="-5.6"/>
<line x1="510.5" y1="114.6" x2="510.5" y2="351.4" fill="none" stroke="#000" stroke-width="3.2" stroke-dasharray="9.3 9.65" stroke-dashoffset="0.8"/>
<path d="M510.5,114.6 A40,40 0 0 1 550.5,74.6" fill="none" stroke="#000" stroke-width="3.2" stroke-dasharray="9.3 9.65" stroke-dashoffset="-7.82"/>
<path d="M749.5,74.6 A40,40 0 0 1 789.5,114.6" fill="none" stroke="#000" stroke-width="3.2" stroke-dasharray="9.3 9.65" stroke-dashoffset="-7.82"/>
<path d="M789.5,351.4 A40,40 0 0 1 749.5,391.4" fill="none" stroke="#000" stroke-width="3.2" stroke-dasharray="9.3 9.65" stroke-dashoffset="-7.82"/>
<path d="M550.5,391.4 A40,40 0 0 1 510.5,351.4" fill="none" stroke="#000" stroke-width="3.2" stroke-dasharray="9.3 9.65" stroke-dashoffset="-7.82"/>
<rect x="1223.6" y="74.6" width="279" height="316.8" rx="40" fill="#fad9d5"/>
<line x1="1263.6" y1="74.6" x2="1462.6" y2="74.6" fill="none" stroke="#000" stroke-width="3.2" stroke-dasharray="9.3 9.65" stroke-dashoffset="-1.9"/>
<line x1="1502.6" y1="114.6" x2="1502.6" y2="351.4" fill="none" stroke="#000" stroke-width="3.2" stroke-dasharray="9.3 9.65" stroke-dashoffset="-8.2"/>
<line x1="1263.6" y1="391.4" x2="1462.6" y2="391.4" fill="none" stroke="#000" stroke-width="3.2" stroke-dasharray="9.3 9.65" stroke-dashoffset="-5.6"/>
<line x1="1223.6" y1="114.6" x2="1223.6" y2="351.4" fill="none" stroke="#000" stroke-width="3.2" stroke-dasharray="9.3 9.65" stroke-dashoffset="0.8"/>
<path d="M1223.6,114.6 A40,40 0 0 1 1263.6,74.6" fill="none" stroke="#000" stroke-width="3.2" stroke-dasharray="9.3 9.65" stroke-dashoffset="-7.82"/>
<path d="M1462.6,74.6 A40,40 0 0 1 1502.6,114.6" fill="none" stroke="#000" stroke-width="3.2" stroke-dasharray="9.3 9.65" stroke-dashoffset="-7.82"/>
<path d="M1502.6,351.4 A40,40 0 0 1 1462.6,391.4" fill="none" stroke="#000" stroke-width="3.2" stroke-dasharray="9.3 9.65" stroke-dashoffset="-7.82"/>
<path d="M1263.6,391.4 A40,40 0 0 1 1223.6,351.4" fill="none" stroke="#000" stroke-width="3.2" stroke-dasharray="9.3 9.65" stroke-dashoffset="-7.82"/>
<line x1="623.89" y1="140.42" x2="670.51" y2="157.98" stroke="#b5443a" stroke-width="6.2"/>
<polygon points="689.7,165.2 658.97,164.53 669.58,157.62 666.15,145.44" fill="#b5443a"/>
<polygon points="604.7,133.2 635.43,133.87 624.82,140.78 628.25,152.96" fill="#b5443a"/>
<line x1="608.37" y1="169.97" x2="630.13" y2="198.33" stroke="#b5443a" stroke-width="6.2"/>
<polygon points="642.6,214.6 616.86,197.79 629.52,197.54 633.05,185.38" fill="#b5443a"/>
<polygon points="595.9,153.7 621.64,170.51 608.98,170.76 605.45,182.92" fill="#b5443a"/>
<line x1="568.97" y1="183.8" x2="568.83" y2="295.7" stroke="#b5443a" stroke-width="6.2"/>
<polygon points="568.8,316.2 558.64,287.19 568.83,294.7 579.04,287.21" fill="#b5443a"/>
<polygon points="569,163.3 579.16,192.31 568.97,184.8 558.76,192.29" fill="#b5443a"/>
<line x1="701.34" y1="205.75" x2="684.26" y2="218.65" stroke="#b5443a" stroke-width="6.2"/>
<polygon points="667.9,231 684.9,205.39 685.06,218.04 697.19,221.67" fill="#b5443a"/>
<polygon points="717.7,193.4 700.7,219.01 700.54,206.36 688.41,202.73" fill="#b5443a"/>
<line x1="726.39" y1="211.97" x2="731.11" y2="300.23" stroke="#b5443a" stroke-width="6.2"/>
<polygon points="732.2,320.7 720.47,292.29 731.05,299.23 740.84,291.2" fill="#b5443a"/>
<polygon points="725.3,191.5 737.03,219.91 726.45,212.97 716.66,221" fill="#b5443a"/>
<line x1="612.41" y1="282.15" x2="596.89" y2="302.35" stroke="#b5443a" stroke-width="6.2"/>
<polygon points="584.4,318.6 593.98,289.39 597.5,301.55 610.16,301.82" fill="#b5443a"/>
<polygon points="624.9,265.9 615.32,295.11 611.8,282.95 599.14,282.68" fill="#b5443a"/>
<line x1="671.49" y1="280.67" x2="685.81" y2="308.13" stroke="#b5443a" stroke-width="6.2"/>
<polygon points="695.3,326.3 672.84,305.31 685.35,307.24 690.92,295.87" fill="#b5443a"/>
<polygon points="662,262.5 684.46,283.49 671.95,281.56 666.38,292.93" fill="#b5443a"/>
<line x1="623.9" y1="344.62" x2="667.2" y2="345.28" stroke="#b5443a" stroke-width="6.2"/>
<polygon points="687.7,345.6 658.55,355.35 666.2,345.27 658.86,334.95" fill="#b5443a"/>
<polygon points="603.4,344.3 632.55,334.55 624.9,344.63 632.24,354.95" fill="#b5443a"/>
<circle cx="576.7" cy="135" r="27.7" fill="#fdca98" stroke="#000" stroke-width="3.8"/>
<text x="576.7" y="145" font-size="37" text-anchor="middle" fill="#000">1</text>
<circle cx="719.5" cy="167" r="27.7" fill="#fdca98" stroke="#000" stroke-width="3.8"/>
<text x="719.5" y="177" font-size="37" text-anchor="middle" fill="#000">2</text>
<circle cx="643.5" cy="244" r="27.7" fill="#fdca98" stroke="#000" stroke-width="3.8"/>
<text x="643.5" y="254" font-size="37" text-anchor="middle" fill="#000">3</text>
<circle cx="577" cy="346" r="27.7" fill="#fdca98" stroke="#000" stroke-width="3.8"/>
<text x="577" y="356" font-size="37" text-anchor="middle" fill="#000">4</text>
<circle cx="716.3" cy="347.2" r="27.7" fill="#fdca98" stroke="#000" stroke-width="3.8"/>
<text x="716.3" y="357.2" font-size="37" text-anchor="middle" fill="#000">5</text>
<circle cx="1429.7" cy="135" r="27.7" fill="#a680b8" stroke="#000" stroke-width="3.8"/>
<text x="1429.7" y="145" font-size="37" text-anchor="middle" fill="#fff">1</text>
<circle cx="1287" cy="166.8" r="27.7" fill="#a680b8" stroke="#000" stroke-width="3.8"/>
<text x="1287" y="176.8" font-size="37" text-anchor="middle" fill="#fff">2</text>
<circle cx="1385.2" cy="244.5" r="27.7" fill="#a680b8" stroke="#000" stroke-width="3.8"/>
<text x="1385.2" y="254.5" font-size="37" text-anchor="middle" fill="#fff">3</text>
<circle cx="1290.1" cy="345.7" r="27.7" fill="#a680b8" stroke="#000" stroke-width="3.8"/>
<text x="1290.1" y="355.7" font-size="37" text-anchor="middle" fill="#fff">5</text>
<circle cx="1429.7" cy="347" r="27.7" fill="#a680b8" stroke="#000" stroke-width="3.8"/>
<text x="1429.7" y="357" font-size="37" text-anchor="middle" fill="#fff">4</text>
<text x="1004.7" y="256.6" font-size="38" font-weight="bold" font-style="italic" text-anchor="middle" fill="#000">Single-modal Cross-frame</text>
<rect x="831" y="410.9" width="347.5" height="87.4" rx="13" ry="13" fill="#d5e8d4" stroke="#000" stroke-width="3.2"/>
<text x="1003.3" y="466" font-size="37.7" font-weight="bold" font-style="normal" text-anchor="middle" fill="#000">Decoding</text>
<path d="M648.6,391.8 V453.4 H808" fill="none" stroke="#82b366" stroke-width="6"/>
<polygon points="828.2,453.4 802.4,466 807.2,453.4 802.4,440.8" fill="#82b366"/>
<path d="M1361.7,391.5 V453.5 H1307.9 M1297.7,453.5 H1199.5" fill="none" stroke="#000" stroke-width="6"/>
<polygon points="1179.9,453.4 1204.5,440.2 1198.7,453.4 1204.5,466.6" fill="#000"/>
<line x1="1298.3" y1="440.4" x2="1306.5" y2="466.7" stroke="#000" stroke-width="2"/>
<text x="1319.1" y="494.8" font-size="37.5" font-weight="bold" font-style="normal" text-anchor="middle" fill="#000">no use</text>
<text x="992.2" y="551.9" font-size="50.7" font-weight="bold" font-style="normal" text-anchor="middle" fill="#000">(a) Video-based</text>
<rect x="510.5" y="601.1" width="279" height="316.8" rx="40" fill="#dce8f5"/>
<line x1="550.5" y1="601.1" x2="749.5" y2="601.1" fill="none" stroke="#000" stroke-width="3.2" stroke-dasharray="9.3 9.65" stroke-dashoffset="-1.9"/>
<line x1="789.5" y1="641.1" x2="789.5" y2="877.9" fill="none" stroke="#000" stroke-width="3.2" stroke-dasharray="9.3 9.65" stroke-dashoffset="-8.2"/>
<line x1="550.5" y1="917.9" x2="749.5" y2="917.9" fill="none" stroke="#000" stroke-width="3.2" stroke-dasharray="9.3 9.65" stroke-dashoffset="-5.6"/>
<line x1="510.5" y1="641.1" x2="510.5" y2="877.9" fill="none" stroke="#000" stroke-width="3.2" stroke-dasharray="9.3 9.65" stroke-dashoffset="0.8"/>
<path d="M510.5,641.1 A40,40 0 0 1 550.5,601.1" fill="none" stroke="#000" stroke-width="3.2" stroke-dasharray="9.3 9.65" stroke-dashoffset="-7.82"/>
<path d="M749.5,601.1 A40,40 0 0 1 789.5,641.1" fill="none" stroke="#000" stroke-width="3.2" stroke-dasharray="9.3 9.65" stroke-dashoffset="-7.82"/>
<path d="M789.5,877.9 A40,40 0 0 1 749.5,917.9" fill="none" stroke="#000" stroke-width="3.2" stroke-dasharray="9.3 9.65" stroke-dashoffset="-7.82"/>
<path d="M550.5,917.9 A40,40 0 0 1 510.5,877.9" fill="none" stroke="#000" stroke-width="3.2" stroke-dasharray="9.3 9.65" stroke-dashoffset="-7.82"/>
<rect x="1223.6" y="600.8" width="279" height="316.8" rx="40" fill="#fad9d5"/>
<line x1="1263.6" y1="600.8" x2="1462.6" y2="600.8" fill="none" stroke="#000" stroke-width="3.2" stroke-dasharray="9.3 9.65" stroke-dashoffset="-1.9"/>
<line x1="1502.6" y1="640.8" x2="1502.6" y2="877.6" fill="none" stroke="#000" stroke-width="3.2" stroke-dasharray="9.3 9.65" stroke-dashoffset="-8.2"/>
<line x1="1263.6" y1="917.6" x2="1462.6" y2="917.6" fill="none" stroke="#000" stroke-width="3.2" stroke-dasharray="9.3 9.65" stroke-dashoffset="-5.6"/>
<line x1="1223.6" y1="640.8" x2="1223.6" y2="877.6" fill="none" stroke="#000" stroke-width="3.2" stroke-dasharray="9.3 9.65" stroke-dashoffset="0.8"/>
<path d="M1223.6,640.8 A40,40 0 0 1 1263.6,600.8" fill="none" stroke="#000" stroke-width="3.2" stroke-dasharray="9.3 9.65" stroke-dashoffset="-7.82"/>
<path d="M1462.6,600.8 A40,40 0 0 1 1502.6,640.8" fill="none" stroke="#000" stroke-width="3.2" stroke-dasharray="9.3 9.65" stroke-dashoffset="-7.82"/>
<path d="M1502.6,877.6 A40,40 0 0 1 1462.6,917.6" fill="none" stroke="#000" stroke-width="3.2" stroke-dasharray="9.3 9.65" stroke-dashoffset="-7.82"/>
<path d="M1263.6,917.6 A40,40 0 0 1 1223.6,877.6" fill="none" stroke="#000" stroke-width="3.2" stroke-dasharray="9.3 9.65" stroke-dashoffset="-7.82"/>
<circle cx="576.7" cy="657.7" r="27.7" fill="#fdca98" stroke="#000" stroke-width="3.8"/>
<text x="576.7" y="667.7" font-size="37" text-anchor="middle" fill="#000">1</text>
<circle cx="719.2" cy="689.5" r="27.7" fill="#fdca98" stroke="#000" stroke-width="3.8"/>
<text x="719.2" y="699.5" font-size="37" text-anchor="middle" fill="#000">2</text>
<circle cx="643.5" cy="777" r="27.7" fill="#fdca98" stroke="#000" stroke-width="3.8"/>
<text x="643.5" y="787" font-size="37" text-anchor="middle" fill="#000">3</text>
<circle cx="576.7" cy="870.2" r="27.7" fill="#fdca98" stroke="#000" stroke-width="3.8"/>
<text x="576.7" y="880.2" font-size="37" text-anchor="middle" fill="#000">4</text>
<circle cx="716.7" cy="869.1" r="27.7" fill="#fdca98" stroke="#000" stroke-width="3.8"/>
<text x="716.7" y="879.1" font-size="37" text-anchor="middle" fill="#000">5</text>
<circle cx="1429.7" cy="657.9" r="27.7" fill="#a680b8" stroke="#000" stroke-width="3.8"/>
<text x="1429.7" y="667.9" font-size="37" text-anchor="middle" fill="#fff">1</text>
<circle cx="1290.2" cy="689.6" r="27.7" fill="#a680b8" stroke="#000" stroke-width="3.8"/>
<text x="1290.2" y="699.6" font-size="37" text-anchor="middle" fill="#fff">2</text>
<circle cx="1385.6" cy="776.9" r="27.7" fill="#a680b8" stroke="#000" stroke-width="3.8"/>
<text x="1385.6" y="786.9" font-size="37" text-anchor="middle" fill="#fff">3</text>
<circle cx="1290.2" cy="868.8" r="27.7" fill="#a680b8" stroke="#000" stroke-width="3.8"/>
<text x="1290.2" y="878.8" font-size="37" text-anchor="middle" fill="#fff">5</text>
<circle cx="1429.7" cy="870.2" r="27.7" fill="#a680b8" stroke="#000" stroke-width="3.8"/>
<text x="1429.7" y="880.2" font-size="37" text-anchor="middle" fill="#fff">4</text>
<line x1="691.5" y1="775.4" x2="1336.2" y2="775.3" stroke="#f5ab7c" stroke-width="6"/>
<polygon points="1356.4,775.3 1330,785.1 1335.2,775.3 1330,765.5" fill="#f5ab7c"/>
<polygon points="671.3,775.4 697.7,765.6 692.5,775.4 697.7,785.2" fill="#f5ab7c"/>
<text x="1005.6" y="760" font-size="38" font-weight="bold" font-style="italic" text-anchor="middle" fill="#000">Cross-modal Single-frame</text>
<rect x="831" y="937.8" width="347.5" height="86.3" rx="13" ry="13" fill="#d5e8d4" stroke="#000" stroke-width="3.2"/>
<text x="1003.3" y="992.9" font-size="37.7" font-weight="bold" font-style="normal" text-anchor="middle" fill="#000">Decoding</text>
<path d="M648.6,917.5 V979.2 H808" fill="none" stroke="#82b366" stroke-width="6"/>
<polygon points="828.2,979.2 802.4,991.8 807.2,979.2 802.4,966.6" fill="#82b366"/>
<path d="M1361.8,916.6 V979.2 H1200" fill="none" stroke="#82b366" stroke-width="6"/>
<polygon points="1179.9,979.2 1205.7,966.6 1200.9,979.2 1205.7,991.8" fill="#82b366"/>
<text x="1032.7" y="1074.4" font-size="50.7" font-weight="bold" font-style="normal" text-anchor="middle" fill="#000">(b) Appearance-Motion based</text>
<rect x="510.5" y="1139.2" width="279" height="316.8" rx="40" fill="#dce8f5"/>
<line x1="550.5" y1="1139.2" x2="749.5" y2="1139.2" fill="none" stroke="#000" stroke-width="3.2" stroke-dasharray="9.3 9.65" stroke-dashoffset="-1.9"/>
<line x1="789.5" y1="1179.2" x2="789.5" y2="1416" fill="none" stroke="#000" stroke-width="3.2" stroke-dasharray="9.3 9.65" stroke-dashoffset="-8.2"/>
<line x1="550.5" y1="1456" x2="749.5" y2="1456" fill="none" stroke="#000" stroke-width="3.2" stroke-dasharray="9.3 9.65" stroke-dashoffset="-5.6"/>
<line x1="510.5" y1="1179.2" x2="510.5" y2="1416" fill="none" stroke="#000" stroke-width="3.2" stroke-dasharray="9.3 9.65" stroke-dashoffset="0.8"/>
<path d="M510.5,1179.2 A40,40 0 0 1 550.5,1139.2" fill="none" stroke="#000" stroke-width="3.2" stroke-dasharray="9.3 9.65" stroke-dashoffset="-7.82"/>
<path d="M749.5,1139.2 A40,40 0 0 1 789.5,1179.2" fill="none" stroke="#000" stroke-width="3.2" stroke-dasharray="9.3 9.65" stroke-dashoffset="-7.82"/>
<path d="M789.5,1416 A40,40 0 0 1 749.5,1456" fill="none" stroke="#000" stroke-width="3.2" stroke-dasharray="9.3 9.65" stroke-dashoffset="-7.82"/>
<path d="M550.5,1456 A40,40 0 0 1 510.5,1416" fill="none" stroke="#000" stroke-width="3.2" stroke-dasharray="9.3 9.65" stroke-dashoffset="-7.82"/>
<rect x="1223.6" y="1139" width="279" height="316.8" rx="40" fill="#fad9d5"/>
<line x1="1263.6" y1="1139" x2="1462.6" y2="1139" fill="none" stroke="#000" stroke-width="3.2" stroke-dasharray="9.3 9.65" stroke-dashoffset="-1.9"/>
<line x1="1502.6" y1="1179" x2="1502.6" y2="1415.8" fill="none" stroke="#000" stroke-width="3.2" stroke-dasharray="9.3 9.65" stroke-dashoffset="-8.2"/>
<line x1="1263.6" y1="1455.8" x2="1462.6" y2="1455.8" fill="none" stroke="#000" stroke-width="3.2" stroke-dasharray="9.3 9.65" stroke-dashoffset="-5.6"/>
<line x1="1223.6" y1="1179" x2="1223.6" y2="1415.8" fill="none" stroke="#000" stroke-width="3.2" stroke-dasharray="9.3 9.65" stroke-dashoffset="0.8"/>
<path d="M1223.6,1179 A40,40 0 0 1 1263.6,1139" fill="none" stroke="#000" stroke-width="3.2" stroke-dasharray="9.3 9.65" stroke-dashoffset="-7.82"/>
<path d="M1462.6,1139 A40,40 0 0 1 1502.6,1179" fill="none" stroke="#000" stroke-width="3.2" stroke-dasharray="9.3 9.65" stroke-dashoffset="-7.82"/>
<path d="M1502.6,1415.8 A40,40 0 0 1 1462.6,1455.8" fill="none" stroke="#000" stroke-width="3.2" stroke-dasharray="9.3 9.65" stroke-dashoffset="-7.82"/>
<path d="M1263.6,1455.8 A40,40 0 0 1 1223.6,1415.8" fill="none" stroke="#000" stroke-width="3.2" stroke-dasharray="9.3 9.65" stroke-dashoffset="-7.82"/>
<line x1="767.9" y1="1226.81" x2="1244.7" y2="1226.99" stroke="#f5ab7c" stroke-width="6"/>
<polygon points="1262.3,1227 1239.3,1239.49 1243.7,1226.99 1239.3,1214.49" fill="#f5ab7c"/>
<polygon points="750.3,1226.8 773.3,1214.31 768.9,1226.81 773.3,1239.31" fill="#f5ab7c"/>
<line x1="766.94" y1="1233.04" x2="1248.36" y2="1399.26" stroke="#eb5b63" stroke-width="6"/>
<polygon points="1265,1405 1238.96,1409.34 1247.42,1398.93 1247.18,1385.52" fill="#eb5b63"/>
<polygon points="750.3,1227.3 776.34,1222.96 767.88,1233.37 768.12,1246.78" fill="#eb5b63"/>
<line x1="762.14" y1="1399.28" x2="1245.36" y2="1233.22" stroke="#eb5b63" stroke-width="6"/>
<polygon points="1262,1227.5 1244.15,1246.96 1244.41,1233.55 1235.96,1223.12" fill="#eb5b63"/>
<polygon points="745.5,1405 763.35,1385.54 763.09,1398.95 771.54,1409.38" fill="#eb5b63"/>
<line x1="762.4" y1="1406.4" x2="1246.7" y2="1406.4" stroke="#f5ab7c" stroke-width="6"/>
<polygon points="1264.3,1406.4 1241.3,1418.9 1245.7,1406.4 1241.3,1393.9" fill="#f5ab7c"/>
<polygon points="744.8,1406.4 767.8,1393.9 763.4,1406.4 767.8,1418.9" fill="#f5ab7c"/>
<text x="1006" y="1328.8" font-size="38" font-weight="bold" font-style="italic" text-anchor="middle" fill="#000">Cross-modal Cross-frame</text>
<line x1="622.63" y1="1202.21" x2="671.27" y2="1220.19" stroke="#b5443a" stroke-width="6.2"/>
<polygon points="690.5,1227.3 659.76,1226.81 670.33,1219.84 666.84,1207.68" fill="#b5443a"/>
<polygon points="603.4,1195.1 634.14,1195.59 623.57,1202.56 627.06,1214.72" fill="#b5443a"/>
<line x1="693.23" y1="1271.49" x2="680.47" y2="1287.91" stroke="#b5443a" stroke-width="6.2"/>
<polygon points="667.9,1304.1 677.63,1274.94 681.09,1287.12 693.74,1287.45" fill="#b5443a"/>
<polygon points="705.8,1255.3 696.07,1284.46 692.61,1272.28 679.96,1271.95" fill="#b5443a"/>
<line x1="717.59" y1="1275.79" x2="715.51" y2="1358.31" stroke="#b5443a" stroke-width="6.2"/>
<polygon points="715,1378.8 705.53,1349.55 715.54,1357.31 725.92,1350.07" fill="#b5443a"/>
<polygon points="718.1,1255.3 727.57,1284.55 717.56,1276.79 707.18,1284.03" fill="#b5443a"/>
<line x1="1291.9" y1="1279.1" x2="1291.9" y2="1357.2" stroke="#b5443a" stroke-width="6.2"/>
<polygon points="1291.9,1377.7 1281.7,1348.7 1291.9,1356.2 1302.1,1348.7" fill="#b5443a"/>
<polygon points="1291.9,1258.6 1302.1,1287.6 1291.9,1280.1 1281.7,1287.6" fill="#b5443a"/>
<line x1="1337.22" y1="1351.01" x2="1325.38" y2="1369.69" stroke="#b5443a" stroke-width="6.2"/>
<polygon points="1314.4,1387 1321.32,1357.05 1325.91,1368.84 1338.54,1367.97" fill="#b5443a"/>
<polygon points="1348.2,1333.7 1341.28,1363.65 1336.69,1351.86 1324.06,1352.73" fill="#b5443a"/>
<line x1="1344.1" y1="1406.8" x2="1387.1" y2="1406.8" stroke="#b5443a" stroke-width="6.2"/>
<polygon points="1407.6,1406.8 1378.6,1417 1386.1,1406.8 1378.6,1396.6" fill="#b5443a"/>
<polygon points="1323.6,1406.8 1352.6,1396.6 1345.1,1406.8 1352.6,1417" fill="#b5443a"/>
<circle cx="576.8" cy="1196.9" r="27.7" fill="#fdca98" stroke="#000" stroke-width="3.8"/>
<text x="576.8" y="1206.9" font-size="37" text-anchor="middle" fill="#000">1</text>
<circle cx="720" cy="1228.6" r="27.7" fill="#fdca98" stroke="#000" stroke-width="3.8"/>
<text x="720" y="1238.6" font-size="37" text-anchor="middle" fill="#000">2</text>
<circle cx="643.7" cy="1315.9" r="27.7" fill="#fdca98" stroke="#000" stroke-width="3.8"/>
<text x="643.7" y="1325.9" font-size="37" text-anchor="middle" fill="#000">3</text>
<circle cx="576.8" cy="1409.2" r="27.7" fill="#fdca98" stroke="#000" stroke-width="3.8"/>
<text x="576.8" y="1419.2" font-size="37" text-anchor="middle" fill="#000">4</text>
<circle cx="716.6" cy="1407.8" r="27.7" fill="#fdca98" stroke="#000" stroke-width="3.8"/>
<text x="716.6" y="1417.8" font-size="37" text-anchor="middle" fill="#000">5</text>
<circle cx="1436" cy="1196.9" r="27.7" fill="#a680b8" stroke="#000" stroke-width="3.8"/>
<text x="1436" y="1206.9" font-size="37" text-anchor="middle" fill="#fff">1</text>
<circle cx="1293.1" cy="1228.6" r="27.7" fill="#a680b8" stroke="#000" stroke-width="3.8"/>
<text x="1293.1" y="1238.6" font-size="37" text-anchor="middle" fill="#fff">2</text>
<circle cx="1369.4" cy="1315.6" r="27.7" fill="#a680b8" stroke="#000" stroke-width="3.8"/>
<text x="1369.4" y="1325.6" font-size="37" text-anchor="middle" fill="#fff">3</text>
<circle cx="1296.3" cy="1407.8" r="27.7" fill="#a680b8" stroke="#000" stroke-width="3.8"/>
<text x="1296.3" y="1417.8" font-size="37" text-anchor="middle" fill="#fff">5</text>
<circle cx="1436" cy="1409.3" r="27.7" fill="#a680b8" stroke="#000" stroke-width="3.8"/>
<text x="1436" y="1419.3" font-size="37" text-anchor="middle" fill="#fff">4</text>
<circle cx="571.3" cy="1279.1" r="5.2" fill="#000"/>
<circle cx="571.3" cy="1303" r="5.2" fill="#000"/>
<circle cx="571.3" cy="1327" r="5.2" fill="#000"/>
<circle cx="619.8" cy="1410" r="5.2" fill="#000"/>
<circle cx="643.8" cy="1410" r="5.2" fill="#000"/>
<circle cx="667.5" cy="1410" r="5.2" fill="#000"/>
<circle cx="1338" cy="1220.1" r="5.2" fill="#000"/>
<circle cx="1361.5" cy="1216" r="5.2" fill="#000"/>
<circle cx="1385.5" cy="1211.9" r="5.2" fill="#000"/>
<circle cx="1433.8" cy="1279" r="5.2" fill="#000"/>
<circle cx="1433.8" cy="1303" r="5.2" fill="#000"/>
<circle cx="1433.8" cy="1327" r="5.2" fill="#000"/>
<rect x="831" y="1476.6" width="347.5" height="86.7" rx="13" ry="13" fill="#d5e8d4" stroke="#000" stroke-width="3.2"/>
<text x="1003.3" y="1531.7" font-size="37.7" font-weight="bold" font-style="normal" text-anchor="middle" fill="#000">Decoding</text>
<path d="M648.6,1456 V1518.8 H808" fill="none" stroke="#82b366" stroke-width="6"/>
<polygon points="828.2,1518.8 802.4,1531.4 807.2,1518.8 802.4,1506.2" fill="#82b366"/>
<path d="M1361.8,1455.5 V1518.8 H1200" fill="none" stroke="#82b366" stroke-width="6"/>
<polygon points="1179.9,1518.8 1205.7,1506.2 1200.9,1518.8 1205.7,1531.4" fill="#82b366"/>
<text x="995.6" y="1617" font-size="51" font-weight="bold" font-style="normal" text-anchor="middle" fill="#000">(c) Ours</text>
</svg>
</body></html>
